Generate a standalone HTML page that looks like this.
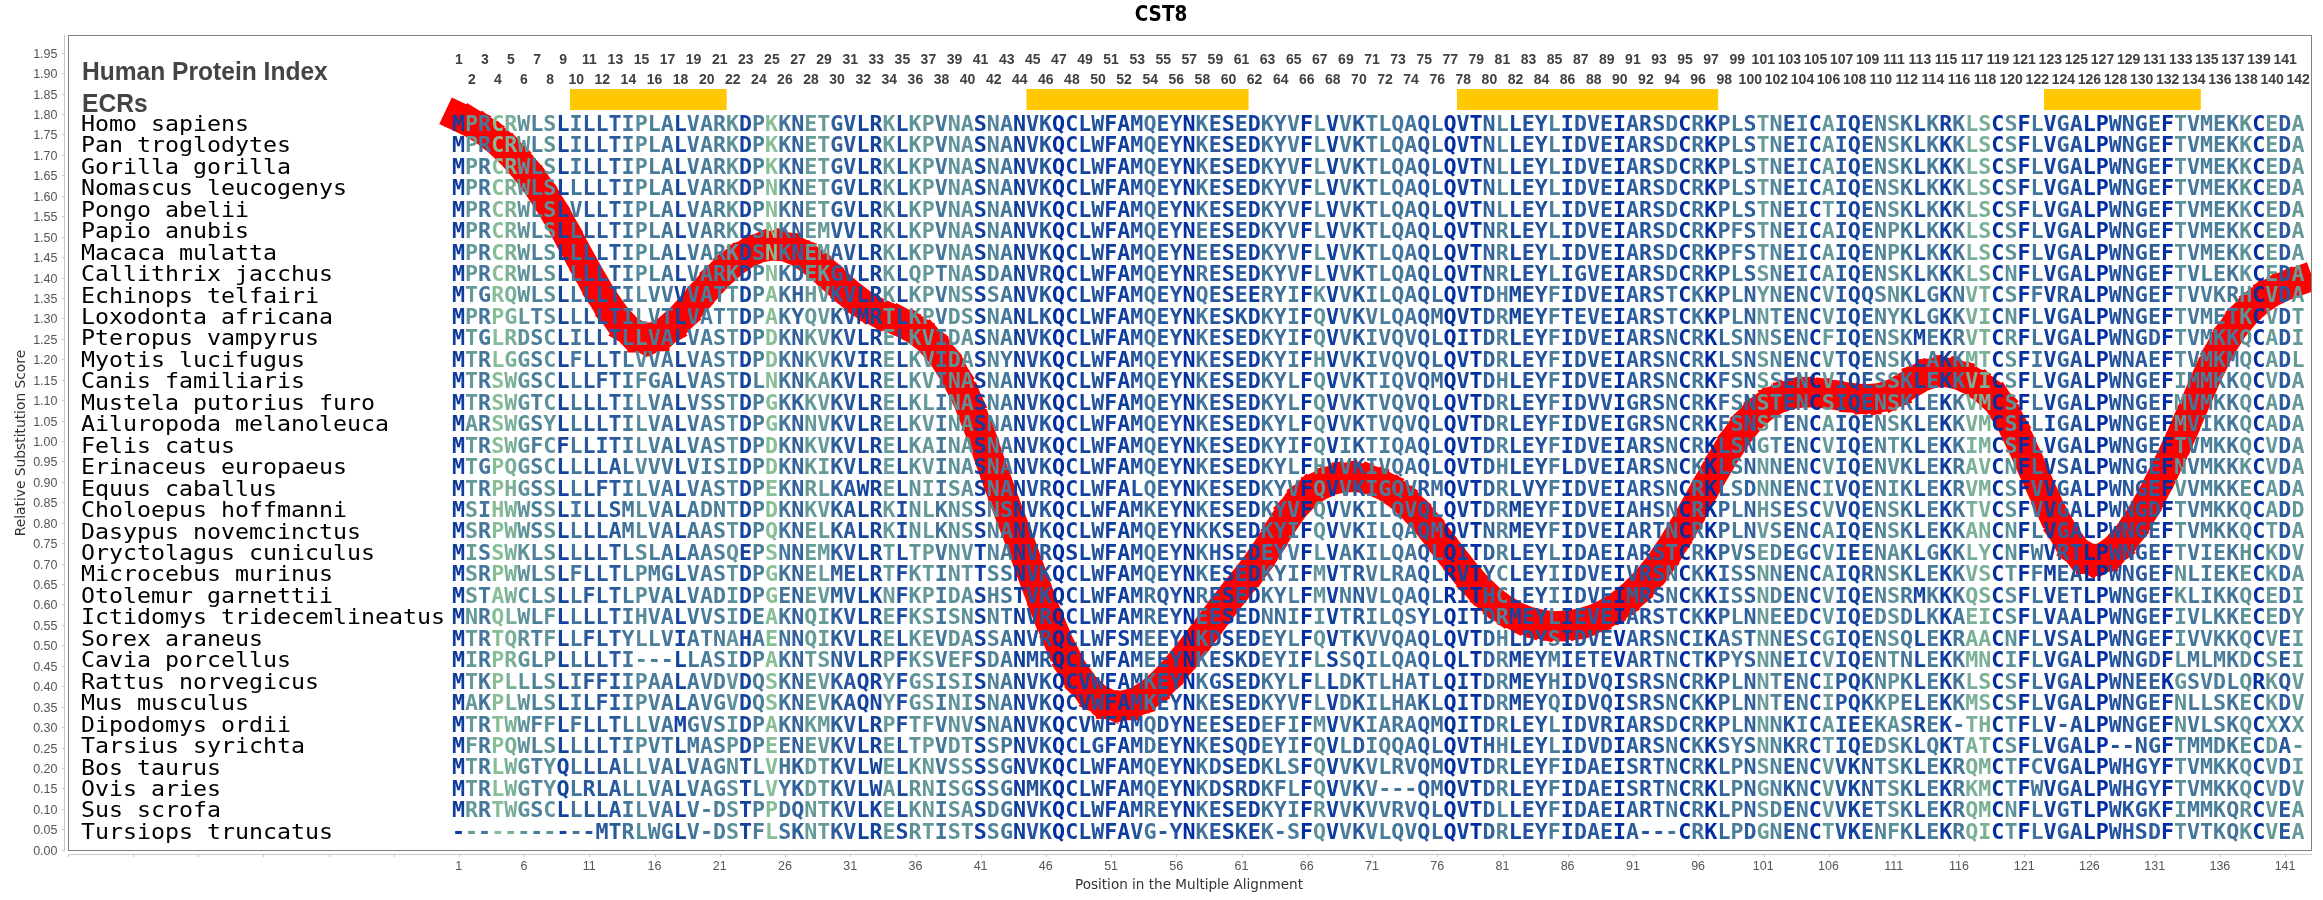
<!DOCTYPE html>
<html><head><meta charset="utf-8"><title>CST8</title>
<style>
html,body{margin:0;padding:0;background:#fff}
body{width:2323px;height:900px;position:relative;overflow:hidden;font-family:"Liberation Sans",sans-serif}
.abs{position:absolute;white-space:pre}
#title{left:0;width:2323px;top:2.2px;text-align:center;font:bold 20.5px "DejaVu Sans Condensed","DejaVu Sans",sans-serif;color:#000;line-height:24px;text-indent:-1px}
#txt{position:absolute;left:0;top:0;width:2323px;height:900px;will-change:transform}
#plot{position:absolute;left:0;top:0;width:2323px;height:900px}
.yl{right:2265.5px;width:40px;text-align:right;font:12.5px "Liberation Sans",sans-serif;color:#555;line-height:14px;height:14px}
.xl{width:40px;text-align:center;font:12.5px "Liberation Sans",sans-serif;color:#555;line-height:14px;top:859px}
#xlab{left:989px;width:400px;text-align:center;top:875px;font:13.57px "DejaVu Sans",sans-serif;color:#333;line-height:18px}
#ylab{left:-80px;width:200px;top:434.3px;text-align:center;font:13.8px "DejaVu Sans",sans-serif;color:#333;line-height:18px;transform:rotate(-90deg)}
.hd{left:81.8px;font:bold 25px "Liberation Sans",sans-serif;color:#444;line-height:28px;transform:scale(0.983,1.04);transform-origin:0 22.7px}
.nm{left:80.6px;font:21.75px "DejaVu Sans Mono",monospace;color:#000;line-height:22px;height:22px;transform:scaleX(1.0693);transform-origin:0 50%}
i{font-style:normal}
.sq{left:452.00px;font:bold 21.67px "DejaVu Sans Mono",monospace;line-height:22px;height:22px;letter-spacing:0px}
.ix{width:40px;text-align:center;font:bold 14px "Liberation Sans",sans-serif;color:#404040;line-height:16px;transform:scaleY(1.06);transform-origin:50% 12.85px}

.c0{color:#002da0}
.c1{color:#0e3c9f}
.c2{color:#14439e}
.c3{color:#1b4a9e}
.c4{color:#22519e}
.c5{color:#28589d}
.c6{color:#2f609c}
.c7{color:#36679c}
.c8{color:#3d6e9c}
.c9{color:#44769b}
.c10{color:#4a7d9a}
.c11{color:#51849a}
.c12{color:#588b9a}
.c13{color:#5e9299}
.c14{color:#659a98}
.c15{color:#7ab097}
.c16{color:#87be96}
</style></head><body>
<svg id="plot" width="2323" height="900" viewBox="0 0 2323 900"><defs><clipPath id="cp"><rect x="69" y="36" width="2242" height="814.5"/></clipPath></defs><g stroke="#c8c8c8" stroke-width="1" fill="none"><path d="M64.5 35V851"/><path d="M68.5 854.5H2312"/><path d="M62 850.5H64.5M62 829.5H64.5M62 809.5H64.5M62 788.5H64.5M62 768.5H64.5M62 748.5H64.5M62 727.5H64.5M62 707.5H64.5M62 686.5H64.5M62 666.5H64.5M62 645.5H64.5M62 625.5H64.5M62 604.5H64.5M62 584.5H64.5M62 564.5H64.5M62 543.5H64.5M62 523.5H64.5M62 502.5H64.5M62 482.5H64.5M62 461.5H64.5M62 441.5H64.5M62 421.5H64.5M62 400.5H64.5M62 380.5H64.5M62 359.5H64.5M62 339.5H64.5M62 318.5H64.5M62 298.5H64.5M62 278.5H64.5M62 257.5H64.5M62 237.5H64.5M62 216.5H64.5M62 196.5H64.5M62 175.5H64.5M62 155.5H64.5M62 134.5H64.5M62 114.5H64.5M62 94.5H64.5M62 73.5H64.5M62 53.5H64.5"/><path d="M68.5 854.5V857M133.5 854.5V857M198.5 854.5V857M263.5 854.5V857M329.5 854.5V857M394.5 854.5V857M459.5 854.5V857M524.5 854.5V857M589.5 854.5V857M655.5 854.5V857M720.5 854.5V857M785.5 854.5V857M850.5 854.5V857M916.5 854.5V857M981.5 854.5V857M1046.5 854.5V857M1111.5 854.5V857M1176.5 854.5V857M1242.5 854.5V857M1307.5 854.5V857M1372.5 854.5V857M1437.5 854.5V857M1503.5 854.5V857M1568.5 854.5V857M1633.5 854.5V857M1698.5 854.5V857M1764.5 854.5V857M1829.5 854.5V857M1894.5 854.5V857M1959.5 854.5V857M2024.5 854.5V857M2090.5 854.5V857M2155.5 854.5V857M2220.5 854.5V857M2285.5 854.5V857"/></g><rect x="569.9" y="89" width="156.8" height="21" fill="#ffc800"/><rect x="1026.5" y="89" width="222.1" height="21" fill="#ffc800"/><rect x="1457.0" y="89" width="261.2" height="21" fill="#ffc800"/><rect x="2044.0" y="89" width="156.8" height="21" fill="#ffc800"/><path clip-path="url(#cp)" d="M458.8 117.0 L471.9 123.2M471.9 123.2 L484.9 131.2M484.9 131.2 L498.0 141.3M498.0 141.3 L511.0 153.5M511.0 153.5 L524.0 168.1M524.0 168.1 L537.1 185.1M537.1 185.1 L550.1 204.9M550.1 204.9 L563.2 227.2M563.2 227.2 L576.2 251.2M576.2 251.2 L589.3 275.0M589.3 275.0 L602.3 297.2M602.3 297.2 L615.4 316.0M615.4 316.0 L628.4 329.9M628.4 329.9 L641.5 337.3M641.5 337.3 L654.5 336.9M654.5 336.9 L667.5 329.8M667.5 329.8 L680.6 318.1M680.6 318.1 L693.6 303.7M693.6 303.7 L706.7 288.6M706.7 288.6 L719.7 274.6M719.7 274.6 L732.8 263.0M732.8 263.0 L745.8 254.1M745.8 254.1 L758.9 248.2M758.9 248.2 L771.9 245.6M771.9 245.6 L784.9 246.8M784.9 246.8 L798.0 252.0M798.0 252.0 L811.0 260.5M811.0 260.5 L824.1 271.2M824.1 271.2 L837.1 282.9M837.1 282.9 L850.2 294.4M850.2 294.4 L863.2 304.3M863.2 304.3 L876.3 311.8M876.3 311.8 L889.3 317.4M889.3 317.4 L902.4 322.8M902.4 322.8 L915.4 329.7M915.4 329.7 L928.4 339.7M928.4 339.7 L941.5 354.4M941.5 354.4 L954.5 374.5M954.5 374.5 L967.6 400.8M967.6 400.8 L980.6 433.9M980.6 433.9 L993.7 471.3M993.7 471.3 L1006.7 507.1M1006.7 507.1 L1019.8 541.3M1019.8 541.3 L1032.8 576.7M1032.8 576.7 L1045.8 611.3M1045.8 611.3 L1058.9 642.6M1058.9 642.6 L1071.9 668.2M1071.9 668.2 L1085.0 686.7M1085.0 686.7 L1098.0 698.7M1098.0 698.7 L1111.1 704.7M1111.1 704.7 L1124.1 705.3M1124.1 705.3 L1137.2 701.3M1137.2 701.3 L1150.2 693.2M1150.2 693.2 L1163.3 681.7M1163.3 681.7 L1176.3 667.6M1176.3 667.6 L1189.3 651.6M1189.3 651.6 L1202.4 634.5M1202.4 634.5 L1215.4 617.0M1215.4 617.0 L1228.5 599.8M1228.5 599.8 L1241.5 583.5M1241.5 583.5 L1254.6 566.9M1254.6 566.9 L1267.6 548.0M1267.6 548.0 L1280.7 527.0M1280.7 527.0 L1293.7 507.9M1293.7 507.9 L1306.7 494.3M1306.7 494.3 L1319.8 485.5M1319.8 485.5 L1332.8 480.1M1332.8 480.1 L1345.9 477.4M1345.9 477.4 L1358.9 477.6M1358.9 477.6 L1372.0 480.6M1372.0 480.6 L1385.0 486.4M1385.0 486.4 L1398.1 495.0M1398.1 495.0 L1411.1 506.4M1411.1 506.4 L1424.2 520.5M1424.2 520.5 L1437.2 536.7M1437.2 536.7 L1450.2 553.7M1450.2 553.7 L1463.3 570.4M1463.3 570.4 L1476.3 585.6M1476.3 585.6 L1489.4 598.3M1489.4 598.3 L1502.4 608.4M1502.4 608.4 L1515.5 616.0M1515.5 616.0 L1528.5 621.3M1528.5 621.3 L1541.6 624.5M1541.6 624.5 L1554.6 625.8M1554.6 625.8 L1567.6 625.2M1567.6 625.2 L1580.7 623.0M1580.7 623.0 L1593.7 619.0M1593.7 619.0 L1606.8 613.0M1606.8 613.0 L1619.8 604.9M1619.8 604.9 L1632.9 594.4M1632.9 594.4 L1645.9 581.2M1645.9 581.2 L1659.0 565.2M1659.0 565.2 L1672.0 546.1M1672.0 546.1 L1685.1 524.4M1685.1 524.4 L1698.1 501.2M1698.1 501.2 L1711.1 477.9M1711.1 477.9 L1724.2 455.6M1724.2 455.6 L1737.2 435.7M1737.2 435.7 L1750.3 419.4M1750.3 419.4 L1763.3 407.5M1763.3 407.5 L1776.4 399.5M1776.4 399.5 L1789.4 394.9M1789.4 394.9 L1802.5 392.8M1802.5 392.8 L1815.5 392.8M1815.5 392.8 L1828.5 394.1M1828.5 394.1 L1841.6 396.2M1841.6 396.2 L1854.6 398.1M1854.6 398.1 L1867.7 398.8M1867.7 398.8 L1880.7 397.5M1880.7 397.5 L1893.8 393.3M1893.8 393.3 L1906.8 385.8M1906.8 385.8 L1919.9 377.8M1919.9 377.8 L1932.9 373.1M1932.9 373.1 L1946.0 372.3M1946.0 372.3 L1959.0 375.2M1959.0 375.2 L1972.0 381.2M1972.0 381.2 L1985.1 389.8M1985.1 389.8 L1998.1 402.0M1998.1 402.0 L2011.2 423.2M2011.2 423.2 L2024.2 450.6M2024.2 450.6 L2037.3 480.0M2037.3 480.0 L2050.3 508.5M2050.3 508.5 L2063.4 533.0M2063.4 533.0 L2076.4 550.6M2076.4 550.6 L2089.4 558.7M2089.4 558.7 L2102.5 557.7M2102.5 557.7 L2115.5 549.0M2115.5 549.0 L2128.6 534.0M2128.6 534.0 L2141.6 514.0M2141.6 514.0 L2154.7 490.4M2154.7 490.4 L2167.7 464.4M2167.7 464.4 L2180.8 436.4M2180.8 436.4 L2193.8 406.4M2193.8 406.4 L2206.9 376.2M2206.9 376.2 L2219.9 349.7M2219.9 349.7 L2232.9 328.8M2232.9 328.8 L2246.0 312.8M2246.0 312.8 L2259.0 300.8M2259.0 300.8 L2272.1 292.1M2272.1 292.1 L2285.1 285.9M2285.1 285.9 L2298.2 281.1" fill="none" stroke="#ff0000" stroke-width="29.3" stroke-linecap="square"/><rect x="68.5" y="35.5" width="2243" height="815" fill="none" stroke="#808080" stroke-width="1"/></svg>
<div id="txt">
<div id="title" class="abs">CST8</div>
<div id="ylab" class="abs">Relative Substitution Score</div>
<div id="xlab" class="abs">Position in the Multiple Alignment</div>
<div class="abs yl" style="top:844.2px">0.00</div>
<div class="abs yl" style="top:823.2px">0.05</div>
<div class="abs yl" style="top:803.2px">0.10</div>
<div class="abs yl" style="top:782.2px">0.15</div>
<div class="abs yl" style="top:762.2px">0.20</div>
<div class="abs yl" style="top:742.2px">0.25</div>
<div class="abs yl" style="top:721.2px">0.30</div>
<div class="abs yl" style="top:701.2px">0.35</div>
<div class="abs yl" style="top:680.2px">0.40</div>
<div class="abs yl" style="top:660.2px">0.45</div>
<div class="abs yl" style="top:639.2px">0.50</div>
<div class="abs yl" style="top:619.2px">0.55</div>
<div class="abs yl" style="top:598.2px">0.60</div>
<div class="abs yl" style="top:578.2px">0.65</div>
<div class="abs yl" style="top:558.2px">0.70</div>
<div class="abs yl" style="top:537.2px">0.75</div>
<div class="abs yl" style="top:517.2px">0.80</div>
<div class="abs yl" style="top:496.2px">0.85</div>
<div class="abs yl" style="top:476.2px">0.90</div>
<div class="abs yl" style="top:455.2px">0.95</div>
<div class="abs yl" style="top:435.2px">1.00</div>
<div class="abs yl" style="top:415.2px">1.05</div>
<div class="abs yl" style="top:394.2px">1.10</div>
<div class="abs yl" style="top:374.2px">1.15</div>
<div class="abs yl" style="top:353.2px">1.20</div>
<div class="abs yl" style="top:333.2px">1.25</div>
<div class="abs yl" style="top:312.2px">1.30</div>
<div class="abs yl" style="top:292.2px">1.35</div>
<div class="abs yl" style="top:272.2px">1.40</div>
<div class="abs yl" style="top:251.2px">1.45</div>
<div class="abs yl" style="top:231.2px">1.50</div>
<div class="abs yl" style="top:210.2px">1.55</div>
<div class="abs yl" style="top:190.2px">1.60</div>
<div class="abs yl" style="top:169.2px">1.65</div>
<div class="abs yl" style="top:149.2px">1.70</div>
<div class="abs yl" style="top:128.2px">1.75</div>
<div class="abs yl" style="top:108.2px">1.80</div>
<div class="abs yl" style="top:88.2px">1.85</div>
<div class="abs yl" style="top:67.2px">1.90</div>
<div class="abs yl" style="top:47.2px">1.95</div>
<div class="abs xl" style="left:438.8px">1</div>
<div class="abs xl" style="left:504.0px">6</div>
<div class="abs xl" style="left:569.3px">11</div>
<div class="abs xl" style="left:634.5px">16</div>
<div class="abs xl" style="left:699.7px">21</div>
<div class="abs xl" style="left:764.9px">26</div>
<div class="abs xl" style="left:830.2px">31</div>
<div class="abs xl" style="left:895.4px">36</div>
<div class="abs xl" style="left:960.6px">41</div>
<div class="abs xl" style="left:1025.8px">46</div>
<div class="abs xl" style="left:1091.1px">51</div>
<div class="abs xl" style="left:1156.3px">56</div>
<div class="abs xl" style="left:1221.5px">61</div>
<div class="abs xl" style="left:1286.7px">66</div>
<div class="abs xl" style="left:1352.0px">71</div>
<div class="abs xl" style="left:1417.2px">76</div>
<div class="abs xl" style="left:1482.4px">81</div>
<div class="abs xl" style="left:1547.6px">86</div>
<div class="abs xl" style="left:1612.9px">91</div>
<div class="abs xl" style="left:1678.1px">96</div>
<div class="abs xl" style="left:1743.3px">101</div>
<div class="abs xl" style="left:1808.5px">106</div>
<div class="abs xl" style="left:1873.8px">111</div>
<div class="abs xl" style="left:1939.0px">116</div>
<div class="abs xl" style="left:2004.2px">121</div>
<div class="abs xl" style="left:2069.4px">126</div>
<div class="abs xl" style="left:2134.7px">131</div>
<div class="abs xl" style="left:2199.9px">136</div>
<div class="abs xl" style="left:2265.1px">141</div>
<div class="abs hd" style="top:57.2px">Human Protein Index</div>
<div class="abs hd" style="top:89.1px">ECRs</div>
<div class="abs ix" style="left:438.8px;top:50.5px">1</div>
<div class="abs ix" style="left:451.9px;top:71.1px">2</div>
<div class="abs ix" style="left:464.9px;top:50.5px">3</div>
<div class="abs ix" style="left:478.0px;top:71.1px">4</div>
<div class="abs ix" style="left:491.0px;top:50.5px">5</div>
<div class="abs ix" style="left:504.0px;top:71.1px">6</div>
<div class="abs ix" style="left:517.1px;top:50.5px">7</div>
<div class="abs ix" style="left:530.1px;top:71.1px">8</div>
<div class="abs ix" style="left:543.2px;top:50.5px">9</div>
<div class="abs ix" style="left:556.2px;top:71.1px">10</div>
<div class="abs ix" style="left:569.3px;top:50.5px">11</div>
<div class="abs ix" style="left:582.3px;top:71.1px">12</div>
<div class="abs ix" style="left:595.4px;top:50.5px">13</div>
<div class="abs ix" style="left:608.4px;top:71.1px">14</div>
<div class="abs ix" style="left:621.5px;top:50.5px">15</div>
<div class="abs ix" style="left:634.5px;top:71.1px">16</div>
<div class="abs ix" style="left:647.5px;top:50.5px">17</div>
<div class="abs ix" style="left:660.6px;top:71.1px">18</div>
<div class="abs ix" style="left:673.6px;top:50.5px">19</div>
<div class="abs ix" style="left:686.7px;top:71.1px">20</div>
<div class="abs ix" style="left:699.7px;top:50.5px">21</div>
<div class="abs ix" style="left:712.8px;top:71.1px">22</div>
<div class="abs ix" style="left:725.8px;top:50.5px">23</div>
<div class="abs ix" style="left:738.9px;top:71.1px">24</div>
<div class="abs ix" style="left:751.9px;top:50.5px">25</div>
<div class="abs ix" style="left:764.9px;top:71.1px">26</div>
<div class="abs ix" style="left:778.0px;top:50.5px">27</div>
<div class="abs ix" style="left:791.0px;top:71.1px">28</div>
<div class="abs ix" style="left:804.1px;top:50.5px">29</div>
<div class="abs ix" style="left:817.1px;top:71.1px">30</div>
<div class="abs ix" style="left:830.2px;top:50.5px">31</div>
<div class="abs ix" style="left:843.2px;top:71.1px">32</div>
<div class="abs ix" style="left:856.3px;top:50.5px">33</div>
<div class="abs ix" style="left:869.3px;top:71.1px">34</div>
<div class="abs ix" style="left:882.4px;top:50.5px">35</div>
<div class="abs ix" style="left:895.4px;top:71.1px">36</div>
<div class="abs ix" style="left:908.4px;top:50.5px">37</div>
<div class="abs ix" style="left:921.5px;top:71.1px">38</div>
<div class="abs ix" style="left:934.5px;top:50.5px">39</div>
<div class="abs ix" style="left:947.6px;top:71.1px">40</div>
<div class="abs ix" style="left:960.6px;top:50.5px">41</div>
<div class="abs ix" style="left:973.7px;top:71.1px">42</div>
<div class="abs ix" style="left:986.7px;top:50.5px">43</div>
<div class="abs ix" style="left:999.8px;top:71.1px">44</div>
<div class="abs ix" style="left:1012.8px;top:50.5px">45</div>
<div class="abs ix" style="left:1025.8px;top:71.1px">46</div>
<div class="abs ix" style="left:1038.9px;top:50.5px">47</div>
<div class="abs ix" style="left:1051.9px;top:71.1px">48</div>
<div class="abs ix" style="left:1065.0px;top:50.5px">49</div>
<div class="abs ix" style="left:1078.0px;top:71.1px">50</div>
<div class="abs ix" style="left:1091.1px;top:50.5px">51</div>
<div class="abs ix" style="left:1104.1px;top:71.1px">52</div>
<div class="abs ix" style="left:1117.2px;top:50.5px">53</div>
<div class="abs ix" style="left:1130.2px;top:71.1px">54</div>
<div class="abs ix" style="left:1143.3px;top:50.5px">55</div>
<div class="abs ix" style="left:1156.3px;top:71.1px">56</div>
<div class="abs ix" style="left:1169.3px;top:50.5px">57</div>
<div class="abs ix" style="left:1182.4px;top:71.1px">58</div>
<div class="abs ix" style="left:1195.4px;top:50.5px">59</div>
<div class="abs ix" style="left:1208.5px;top:71.1px">60</div>
<div class="abs ix" style="left:1221.5px;top:50.5px">61</div>
<div class="abs ix" style="left:1234.6px;top:71.1px">62</div>
<div class="abs ix" style="left:1247.6px;top:50.5px">63</div>
<div class="abs ix" style="left:1260.7px;top:71.1px">64</div>
<div class="abs ix" style="left:1273.7px;top:50.5px">65</div>
<div class="abs ix" style="left:1286.7px;top:71.1px">66</div>
<div class="abs ix" style="left:1299.8px;top:50.5px">67</div>
<div class="abs ix" style="left:1312.8px;top:71.1px">68</div>
<div class="abs ix" style="left:1325.9px;top:50.5px">69</div>
<div class="abs ix" style="left:1338.9px;top:71.1px">70</div>
<div class="abs ix" style="left:1352.0px;top:50.5px">71</div>
<div class="abs ix" style="left:1365.0px;top:71.1px">72</div>
<div class="abs ix" style="left:1378.1px;top:50.5px">73</div>
<div class="abs ix" style="left:1391.1px;top:71.1px">74</div>
<div class="abs ix" style="left:1404.2px;top:50.5px">75</div>
<div class="abs ix" style="left:1417.2px;top:71.1px">76</div>
<div class="abs ix" style="left:1430.2px;top:50.5px">77</div>
<div class="abs ix" style="left:1443.3px;top:71.1px">78</div>
<div class="abs ix" style="left:1456.3px;top:50.5px">79</div>
<div class="abs ix" style="left:1469.4px;top:71.1px">80</div>
<div class="abs ix" style="left:1482.4px;top:50.5px">81</div>
<div class="abs ix" style="left:1495.5px;top:71.1px">82</div>
<div class="abs ix" style="left:1508.5px;top:50.5px">83</div>
<div class="abs ix" style="left:1521.6px;top:71.1px">84</div>
<div class="abs ix" style="left:1534.6px;top:50.5px">85</div>
<div class="abs ix" style="left:1547.6px;top:71.1px">86</div>
<div class="abs ix" style="left:1560.7px;top:50.5px">87</div>
<div class="abs ix" style="left:1573.7px;top:71.1px">88</div>
<div class="abs ix" style="left:1586.8px;top:50.5px">89</div>
<div class="abs ix" style="left:1599.8px;top:71.1px">90</div>
<div class="abs ix" style="left:1612.9px;top:50.5px">91</div>
<div class="abs ix" style="left:1625.9px;top:71.1px">92</div>
<div class="abs ix" style="left:1639.0px;top:50.5px">93</div>
<div class="abs ix" style="left:1652.0px;top:71.1px">94</div>
<div class="abs ix" style="left:1665.1px;top:50.5px">95</div>
<div class="abs ix" style="left:1678.1px;top:71.1px">96</div>
<div class="abs ix" style="left:1691.1px;top:50.5px">97</div>
<div class="abs ix" style="left:1704.2px;top:71.1px">98</div>
<div class="abs ix" style="left:1717.2px;top:50.5px">99</div>
<div class="abs ix" style="left:1730.3px;top:71.1px">100</div>
<div class="abs ix" style="left:1743.3px;top:50.5px">101</div>
<div class="abs ix" style="left:1756.4px;top:71.1px">102</div>
<div class="abs ix" style="left:1769.4px;top:50.5px">103</div>
<div class="abs ix" style="left:1782.5px;top:71.1px">104</div>
<div class="abs ix" style="left:1795.5px;top:50.5px">105</div>
<div class="abs ix" style="left:1808.5px;top:71.1px">106</div>
<div class="abs ix" style="left:1821.6px;top:50.5px">107</div>
<div class="abs ix" style="left:1834.6px;top:71.1px">108</div>
<div class="abs ix" style="left:1847.7px;top:50.5px">109</div>
<div class="abs ix" style="left:1860.7px;top:71.1px">110</div>
<div class="abs ix" style="left:1873.8px;top:50.5px">111</div>
<div class="abs ix" style="left:1886.8px;top:71.1px">112</div>
<div class="abs ix" style="left:1899.9px;top:50.5px">113</div>
<div class="abs ix" style="left:1912.9px;top:71.1px">114</div>
<div class="abs ix" style="left:1926.0px;top:50.5px">115</div>
<div class="abs ix" style="left:1939.0px;top:71.1px">116</div>
<div class="abs ix" style="left:1952.0px;top:50.5px">117</div>
<div class="abs ix" style="left:1965.1px;top:71.1px">118</div>
<div class="abs ix" style="left:1978.1px;top:50.5px">119</div>
<div class="abs ix" style="left:1991.2px;top:71.1px">120</div>
<div class="abs ix" style="left:2004.2px;top:50.5px">121</div>
<div class="abs ix" style="left:2017.3px;top:71.1px">122</div>
<div class="abs ix" style="left:2030.3px;top:50.5px">123</div>
<div class="abs ix" style="left:2043.4px;top:71.1px">124</div>
<div class="abs ix" style="left:2056.4px;top:50.5px">125</div>
<div class="abs ix" style="left:2069.4px;top:71.1px">126</div>
<div class="abs ix" style="left:2082.5px;top:50.5px">127</div>
<div class="abs ix" style="left:2095.5px;top:71.1px">128</div>
<div class="abs ix" style="left:2108.6px;top:50.5px">129</div>
<div class="abs ix" style="left:2121.6px;top:71.1px">130</div>
<div class="abs ix" style="left:2134.7px;top:50.5px">131</div>
<div class="abs ix" style="left:2147.7px;top:71.1px">132</div>
<div class="abs ix" style="left:2160.8px;top:50.5px">133</div>
<div class="abs ix" style="left:2173.8px;top:71.1px">134</div>
<div class="abs ix" style="left:2186.9px;top:50.5px">135</div>
<div class="abs ix" style="left:2199.9px;top:71.1px">136</div>
<div class="abs ix" style="left:2212.9px;top:50.5px">137</div>
<div class="abs ix" style="left:2226.0px;top:71.1px">138</div>
<div class="abs ix" style="left:2239.0px;top:50.5px">139</div>
<div class="abs ix" style="left:2252.1px;top:71.1px">140</div>
<div class="abs ix" style="left:2265.1px;top:50.5px">141</div>
<div class="abs ix" style="left:2278.2px;top:71.1px">142</div>
<div class="abs nm" style="top:112.9px">Homo sapiens</div>
<div class="abs sq" style="top:112.8px"><i class="c1">M</i><i class="c14">P</i><i class="c9">R</i><i class="c16">C</i><i class="c15">R</i><i class="c13">W</i><i class="c10">L</i><i class="c13">S</i><i class="c2">L</i><i class="c9">I</i><i class="c5">LLT</i><i class="c9">I</i><i class="c12">P</i><i class="c10">L</i><i class="c9">A</i><i class="c2">L</i><i class="c9">V</i><i class="c10">AR</i><i class="c13">K</i><i class="c2">D</i><i class="c10">P</i><i class="c16">K</i><i class="c9">K</i><i class="c6">N</i><i class="c14">ET</i><i class="c6">G</i><i class="c5">V</i><i class="c2">LR</i><i class="c14">K</i><i class="c3">L</i><i class="c13">K</i><i class="c14">P</i><i class="c9">V</i><i class="c13">NA</i><i class="c1">S</i><i class="c11">N</i><i class="c9">A</i><i class="c1">N</i><i class="c4">V</i><i class="c5">K</i><i class="c0">Q</i><i class="c1">C</i><i class="c2">L</i><i class="c4">W</i><i class="c1">FA</i><i class="c4">M</i><i class="c9">Q</i><i class="c5">E</i><i class="c4">Y</i><i class="c0">N</i><i class="c9">K</i><i class="c5">E</i><i class="c1">S</i><i class="c5">E</i><i class="c1">D</i><i class="c9">K</i><i class="c8">Y</i><i class="c10">V</i><i class="c0">F</i><i class="c13">L</i><i class="c1">V</i><i class="c10">V</i><i class="c5">K</i><i class="c10">TL</i><i class="c9">QA</i><i class="c5">Q</i><i class="c8">L</i><i class="c0">Q</i><i class="c2">V</i><i class="c0">T</i><i class="c6">N</i><i class="c11">L</i><i class="c2">L</i><i class="c4">EY</i><i class="c10">L</i><i class="c1">I</i><i class="c5">DVE</i><i class="c0">I</i><i class="c6">A</i><i class="c4">R</i><i class="c5">S</i><i class="c9">D</i><i class="c0">C</i><i class="c9">R</i><i class="c0">K</i><i class="c7">P</i><i class="c10">L</i><i class="c6">S</i><i class="c14">T</i><i class="c11">N</i><i class="c4">E</i><i class="c10">I</i><i class="c0">C</i><i class="c14">A</i><i class="c5">I</i><i class="c2">Q</i><i class="c5">E</i><i class="c11">N</i><i class="c13">S</i><i class="c9">K</i><i class="c2">L</i><i class="c10">K</i><i class="c1">R</i><i class="c9">K</i><i class="c15">LS</i><i class="c0">C</i><i class="c13">S</i><i class="c0">F</i><i class="c9">L</i><i class="c1">V</i><i class="c6">G</i><i class="c4">A</i><i class="c0">LP</i><i class="c4">W</i><i class="c5">NG</i><i class="c6">E</i><i class="c0">F</i><i class="c13">T</i><i class="c9">V</i><i class="c10">ME</i><i class="c9">K</i><i class="c13">K</i><i class="c0">C</i><i class="c14">E</i><i class="c5">D</i><i class="c14">A</i></div>
<div class="abs nm" style="top:134.4px">Pan troglodytes</div>
<div class="abs sq" style="top:134.3px"><i class="c1">M</i><i class="c14">P</i><i class="c9">R</i><i class="c16">C</i><i class="c15">R</i><i class="c13">W</i><i class="c10">L</i><i class="c13">S</i><i class="c2">L</i><i class="c9">I</i><i class="c5">LLT</i><i class="c9">I</i><i class="c12">P</i><i class="c10">L</i><i class="c9">A</i><i class="c2">L</i><i class="c9">V</i><i class="c10">AR</i><i class="c13">K</i><i class="c2">D</i><i class="c10">P</i><i class="c16">K</i><i class="c9">K</i><i class="c6">N</i><i class="c14">ET</i><i class="c6">G</i><i class="c5">V</i><i class="c2">LR</i><i class="c14">K</i><i class="c3">L</i><i class="c13">K</i><i class="c14">P</i><i class="c9">V</i><i class="c13">NA</i><i class="c1">S</i><i class="c11">N</i><i class="c9">A</i><i class="c1">N</i><i class="c4">V</i><i class="c5">K</i><i class="c0">Q</i><i class="c1">C</i><i class="c2">L</i><i class="c4">W</i><i class="c1">FA</i><i class="c4">M</i><i class="c9">Q</i><i class="c5">E</i><i class="c4">Y</i><i class="c0">N</i><i class="c9">K</i><i class="c5">E</i><i class="c1">S</i><i class="c5">E</i><i class="c1">D</i><i class="c9">K</i><i class="c8">Y</i><i class="c10">V</i><i class="c0">F</i><i class="c13">L</i><i class="c1">V</i><i class="c10">V</i><i class="c5">K</i><i class="c10">TL</i><i class="c9">QA</i><i class="c5">Q</i><i class="c8">L</i><i class="c0">Q</i><i class="c2">V</i><i class="c0">T</i><i class="c6">N</i><i class="c11">L</i><i class="c2">L</i><i class="c4">EY</i><i class="c10">L</i><i class="c1">I</i><i class="c5">DVE</i><i class="c0">I</i><i class="c6">A</i><i class="c4">R</i><i class="c5">S</i><i class="c9">D</i><i class="c0">C</i><i class="c9">R</i><i class="c0">K</i><i class="c7">P</i><i class="c10">L</i><i class="c6">S</i><i class="c14">T</i><i class="c11">N</i><i class="c4">E</i><i class="c10">I</i><i class="c0">C</i><i class="c14">A</i><i class="c5">I</i><i class="c2">Q</i><i class="c5">E</i><i class="c11">N</i><i class="c13">S</i><i class="c9">K</i><i class="c2">L</i><i class="c10">K</i><i class="c1">K</i><i class="c9">K</i><i class="c15">LS</i><i class="c0">C</i><i class="c13">S</i><i class="c0">F</i><i class="c9">L</i><i class="c1">V</i><i class="c6">G</i><i class="c4">A</i><i class="c0">LP</i><i class="c4">W</i><i class="c5">NG</i><i class="c6">E</i><i class="c0">F</i><i class="c13">T</i><i class="c9">V</i><i class="c10">ME</i><i class="c9">K</i><i class="c13">K</i><i class="c0">C</i><i class="c14">E</i><i class="c5">D</i><i class="c14">A</i></div>
<div class="abs nm" style="top:155.8px">Gorilla gorilla</div>
<div class="abs sq" style="top:155.7px"><i class="c1">M</i><i class="c14">P</i><i class="c9">R</i><i class="c16">C</i><i class="c15">R</i><i class="c13">W</i><i class="c10">L</i><i class="c13">S</i><i class="c2">L</i><i class="c9">I</i><i class="c5">LLT</i><i class="c9">I</i><i class="c12">P</i><i class="c10">L</i><i class="c9">A</i><i class="c2">L</i><i class="c9">V</i><i class="c10">AR</i><i class="c13">K</i><i class="c2">D</i><i class="c10">P</i><i class="c16">K</i><i class="c9">K</i><i class="c6">N</i><i class="c14">ET</i><i class="c6">G</i><i class="c5">V</i><i class="c2">LR</i><i class="c14">K</i><i class="c3">L</i><i class="c13">K</i><i class="c14">P</i><i class="c9">V</i><i class="c13">NA</i><i class="c1">S</i><i class="c11">N</i><i class="c9">A</i><i class="c1">N</i><i class="c4">V</i><i class="c5">K</i><i class="c0">Q</i><i class="c1">C</i><i class="c2">L</i><i class="c4">W</i><i class="c1">FA</i><i class="c4">M</i><i class="c9">Q</i><i class="c5">E</i><i class="c4">Y</i><i class="c0">N</i><i class="c9">K</i><i class="c5">E</i><i class="c1">S</i><i class="c5">E</i><i class="c1">D</i><i class="c9">K</i><i class="c8">Y</i><i class="c10">V</i><i class="c0">F</i><i class="c13">L</i><i class="c1">V</i><i class="c10">V</i><i class="c5">K</i><i class="c10">TL</i><i class="c9">QA</i><i class="c5">Q</i><i class="c8">L</i><i class="c0">Q</i><i class="c2">V</i><i class="c0">T</i><i class="c6">N</i><i class="c11">L</i><i class="c2">L</i><i class="c4">EY</i><i class="c10">L</i><i class="c1">I</i><i class="c5">DVE</i><i class="c0">I</i><i class="c6">A</i><i class="c4">R</i><i class="c5">S</i><i class="c9">D</i><i class="c0">C</i><i class="c9">R</i><i class="c0">K</i><i class="c7">P</i><i class="c10">L</i><i class="c6">S</i><i class="c14">T</i><i class="c11">N</i><i class="c4">E</i><i class="c10">I</i><i class="c0">C</i><i class="c14">A</i><i class="c5">I</i><i class="c2">Q</i><i class="c5">E</i><i class="c11">N</i><i class="c13">S</i><i class="c9">K</i><i class="c2">L</i><i class="c10">K</i><i class="c1">K</i><i class="c9">K</i><i class="c15">LS</i><i class="c0">C</i><i class="c13">S</i><i class="c0">F</i><i class="c9">L</i><i class="c1">V</i><i class="c6">G</i><i class="c4">A</i><i class="c0">LP</i><i class="c4">W</i><i class="c5">NG</i><i class="c6">E</i><i class="c0">F</i><i class="c13">T</i><i class="c9">V</i><i class="c10">ME</i><i class="c9">K</i><i class="c13">K</i><i class="c0">C</i><i class="c14">E</i><i class="c5">D</i><i class="c14">A</i></div>
<div class="abs nm" style="top:177.3px">Nomascus leucogenys</div>
<div class="abs sq" style="top:177.2px"><i class="c1">M</i><i class="c14">P</i><i class="c9">R</i><i class="c16">C</i><i class="c15">R</i><i class="c13">W</i><i class="c10">L</i><i class="c13">S</i><i class="c2">L</i><i class="c9">L</i><i class="c5">LLT</i><i class="c9">I</i><i class="c12">P</i><i class="c10">L</i><i class="c9">A</i><i class="c2">L</i><i class="c9">V</i><i class="c10">AR</i><i class="c13">K</i><i class="c2">D</i><i class="c10">P</i><i class="c16">N</i><i class="c9">K</i><i class="c6">N</i><i class="c14">ET</i><i class="c6">G</i><i class="c5">V</i><i class="c2">LR</i><i class="c14">K</i><i class="c3">L</i><i class="c13">K</i><i class="c14">P</i><i class="c9">V</i><i class="c13">NA</i><i class="c1">S</i><i class="c11">N</i><i class="c9">A</i><i class="c1">N</i><i class="c4">V</i><i class="c5">K</i><i class="c0">Q</i><i class="c1">C</i><i class="c2">L</i><i class="c4">W</i><i class="c1">FA</i><i class="c4">M</i><i class="c9">Q</i><i class="c5">E</i><i class="c4">Y</i><i class="c0">N</i><i class="c9">K</i><i class="c5">E</i><i class="c1">S</i><i class="c5">E</i><i class="c1">D</i><i class="c9">K</i><i class="c8">Y</i><i class="c10">V</i><i class="c0">F</i><i class="c13">L</i><i class="c1">V</i><i class="c10">V</i><i class="c5">K</i><i class="c10">TL</i><i class="c9">QA</i><i class="c5">Q</i><i class="c8">L</i><i class="c0">Q</i><i class="c2">V</i><i class="c0">T</i><i class="c6">N</i><i class="c11">L</i><i class="c2">L</i><i class="c4">EY</i><i class="c10">L</i><i class="c1">I</i><i class="c5">DVE</i><i class="c0">I</i><i class="c6">A</i><i class="c4">R</i><i class="c5">S</i><i class="c9">D</i><i class="c0">C</i><i class="c9">R</i><i class="c0">K</i><i class="c7">P</i><i class="c10">L</i><i class="c6">S</i><i class="c14">T</i><i class="c11">N</i><i class="c4">E</i><i class="c10">I</i><i class="c0">C</i><i class="c14">A</i><i class="c5">I</i><i class="c2">Q</i><i class="c5">E</i><i class="c11">N</i><i class="c13">S</i><i class="c9">K</i><i class="c2">L</i><i class="c10">K</i><i class="c1">K</i><i class="c9">K</i><i class="c15">LS</i><i class="c0">C</i><i class="c13">S</i><i class="c0">F</i><i class="c9">L</i><i class="c1">V</i><i class="c6">G</i><i class="c4">A</i><i class="c0">LP</i><i class="c4">W</i><i class="c5">NG</i><i class="c6">E</i><i class="c0">F</i><i class="c13">T</i><i class="c9">V</i><i class="c10">ME</i><i class="c9">K</i><i class="c13">K</i><i class="c0">C</i><i class="c14">E</i><i class="c5">D</i><i class="c14">A</i></div>
<div class="abs nm" style="top:198.7px">Pongo abelii</div>
<div class="abs sq" style="top:198.6px"><i class="c1">M</i><i class="c14">P</i><i class="c9">R</i><i class="c16">C</i><i class="c15">R</i><i class="c13">W</i><i class="c10">L</i><i class="c13">S</i><i class="c2">L</i><i class="c9">V</i><i class="c5">LLT</i><i class="c9">I</i><i class="c12">P</i><i class="c10">L</i><i class="c9">A</i><i class="c2">L</i><i class="c9">V</i><i class="c10">AR</i><i class="c13">K</i><i class="c2">D</i><i class="c10">P</i><i class="c16">N</i><i class="c9">K</i><i class="c6">N</i><i class="c14">ET</i><i class="c6">G</i><i class="c5">V</i><i class="c2">LR</i><i class="c14">K</i><i class="c3">L</i><i class="c13">K</i><i class="c14">P</i><i class="c9">V</i><i class="c13">NA</i><i class="c1">S</i><i class="c11">N</i><i class="c9">A</i><i class="c1">N</i><i class="c4">V</i><i class="c5">K</i><i class="c0">Q</i><i class="c1">C</i><i class="c2">L</i><i class="c4">W</i><i class="c1">FA</i><i class="c4">M</i><i class="c9">Q</i><i class="c5">E</i><i class="c4">Y</i><i class="c0">N</i><i class="c9">K</i><i class="c5">E</i><i class="c1">S</i><i class="c5">E</i><i class="c1">D</i><i class="c9">K</i><i class="c8">Y</i><i class="c10">V</i><i class="c0">F</i><i class="c13">L</i><i class="c1">V</i><i class="c10">V</i><i class="c5">K</i><i class="c10">TL</i><i class="c9">QA</i><i class="c5">Q</i><i class="c8">L</i><i class="c0">Q</i><i class="c2">V</i><i class="c0">T</i><i class="c6">N</i><i class="c11">L</i><i class="c2">L</i><i class="c4">EY</i><i class="c10">L</i><i class="c1">I</i><i class="c5">DVE</i><i class="c0">I</i><i class="c6">A</i><i class="c4">R</i><i class="c5">S</i><i class="c9">D</i><i class="c0">C</i><i class="c9">R</i><i class="c0">K</i><i class="c7">P</i><i class="c10">L</i><i class="c6">S</i><i class="c14">T</i><i class="c11">N</i><i class="c4">E</i><i class="c10">I</i><i class="c0">C</i><i class="c14">T</i><i class="c5">I</i><i class="c2">Q</i><i class="c5">E</i><i class="c11">N</i><i class="c13">S</i><i class="c9">K</i><i class="c2">L</i><i class="c10">K</i><i class="c1">K</i><i class="c9">K</i><i class="c15">LS</i><i class="c0">C</i><i class="c13">S</i><i class="c0">F</i><i class="c9">L</i><i class="c1">V</i><i class="c6">G</i><i class="c4">A</i><i class="c0">LP</i><i class="c4">W</i><i class="c5">NG</i><i class="c6">E</i><i class="c0">F</i><i class="c13">T</i><i class="c9">V</i><i class="c10">ME</i><i class="c9">K</i><i class="c13">K</i><i class="c0">C</i><i class="c14">E</i><i class="c5">D</i><i class="c14">A</i></div>
<div class="abs nm" style="top:220.2px">Papio anubis</div>
<div class="abs sq" style="top:220.1px"><i class="c1">M</i><i class="c14">P</i><i class="c9">R</i><i class="c16">C</i><i class="c15">R</i><i class="c13">W</i><i class="c10">L</i><i class="c13">S</i><i class="c2">L</i><i class="c9">L</i><i class="c5">LLT</i><i class="c9">I</i><i class="c12">P</i><i class="c10">L</i><i class="c9">A</i><i class="c2">L</i><i class="c9">V</i><i class="c10">AR</i><i class="c13">K</i><i class="c2">D</i><i class="c10">S</i><i class="c16">N</i><i class="c9">K</i><i class="c6">N</i><i class="c14">EM</i><i class="c6">V</i><i class="c5">V</i><i class="c2">LR</i><i class="c14">K</i><i class="c3">L</i><i class="c13">K</i><i class="c14">P</i><i class="c9">V</i><i class="c13">NA</i><i class="c1">S</i><i class="c11">N</i><i class="c9">A</i><i class="c1">N</i><i class="c4">V</i><i class="c5">K</i><i class="c0">Q</i><i class="c1">C</i><i class="c2">L</i><i class="c4">W</i><i class="c1">FA</i><i class="c4">M</i><i class="c9">Q</i><i class="c5">E</i><i class="c4">Y</i><i class="c0">N</i><i class="c9">E</i><i class="c5">E</i><i class="c1">S</i><i class="c5">E</i><i class="c1">D</i><i class="c9">K</i><i class="c8">Y</i><i class="c10">V</i><i class="c0">F</i><i class="c13">L</i><i class="c1">V</i><i class="c10">V</i><i class="c5">K</i><i class="c10">TL</i><i class="c9">QA</i><i class="c5">Q</i><i class="c8">L</i><i class="c0">Q</i><i class="c2">V</i><i class="c0">T</i><i class="c6">N</i><i class="c11">R</i><i class="c2">L</i><i class="c4">EY</i><i class="c10">L</i><i class="c1">I</i><i class="c5">DVE</i><i class="c0">I</i><i class="c6">A</i><i class="c4">R</i><i class="c5">S</i><i class="c9">D</i><i class="c0">C</i><i class="c9">R</i><i class="c0">K</i><i class="c7">P</i><i class="c10">F</i><i class="c6">S</i><i class="c14">T</i><i class="c11">N</i><i class="c4">E</i><i class="c10">I</i><i class="c0">C</i><i class="c14">A</i><i class="c5">I</i><i class="c2">Q</i><i class="c5">E</i><i class="c11">N</i><i class="c13">P</i><i class="c9">K</i><i class="c2">L</i><i class="c10">K</i><i class="c1">K</i><i class="c9">K</i><i class="c15">LS</i><i class="c0">C</i><i class="c13">S</i><i class="c0">F</i><i class="c9">L</i><i class="c1">V</i><i class="c6">G</i><i class="c4">A</i><i class="c0">LP</i><i class="c4">W</i><i class="c5">NG</i><i class="c6">E</i><i class="c0">F</i><i class="c13">T</i><i class="c9">V</i><i class="c10">ME</i><i class="c9">K</i><i class="c13">K</i><i class="c0">C</i><i class="c14">E</i><i class="c5">D</i><i class="c14">A</i></div>
<div class="abs nm" style="top:241.6px">Macaca mulatta</div>
<div class="abs sq" style="top:241.5px"><i class="c1">M</i><i class="c14">P</i><i class="c9">R</i><i class="c16">C</i><i class="c15">R</i><i class="c13">W</i><i class="c10">L</i><i class="c13">S</i><i class="c2">L</i><i class="c9">L</i><i class="c5">LLT</i><i class="c9">I</i><i class="c12">P</i><i class="c10">L</i><i class="c9">A</i><i class="c2">L</i><i class="c9">V</i><i class="c10">AR</i><i class="c13">K</i><i class="c2">D</i><i class="c10">S</i><i class="c16">N</i><i class="c9">K</i><i class="c6">N</i><i class="c14">EM</i><i class="c6">A</i><i class="c5">V</i><i class="c2">LR</i><i class="c14">K</i><i class="c3">L</i><i class="c13">K</i><i class="c14">P</i><i class="c9">V</i><i class="c13">NA</i><i class="c1">S</i><i class="c11">N</i><i class="c9">A</i><i class="c1">N</i><i class="c4">V</i><i class="c5">K</i><i class="c0">Q</i><i class="c1">C</i><i class="c2">L</i><i class="c4">W</i><i class="c1">FA</i><i class="c4">M</i><i class="c9">Q</i><i class="c5">E</i><i class="c4">Y</i><i class="c0">N</i><i class="c9">E</i><i class="c5">E</i><i class="c1">S</i><i class="c5">E</i><i class="c1">D</i><i class="c9">K</i><i class="c8">Y</i><i class="c10">V</i><i class="c0">F</i><i class="c13">L</i><i class="c1">V</i><i class="c10">V</i><i class="c5">K</i><i class="c10">TL</i><i class="c9">QA</i><i class="c5">Q</i><i class="c8">L</i><i class="c0">Q</i><i class="c2">V</i><i class="c0">T</i><i class="c6">N</i><i class="c11">R</i><i class="c2">L</i><i class="c4">EY</i><i class="c10">L</i><i class="c1">I</i><i class="c5">DVE</i><i class="c0">I</i><i class="c6">A</i><i class="c4">R</i><i class="c5">S</i><i class="c9">D</i><i class="c0">C</i><i class="c9">R</i><i class="c0">K</i><i class="c7">P</i><i class="c10">F</i><i class="c6">S</i><i class="c14">T</i><i class="c11">N</i><i class="c4">E</i><i class="c10">I</i><i class="c0">C</i><i class="c14">A</i><i class="c5">I</i><i class="c2">Q</i><i class="c5">E</i><i class="c11">N</i><i class="c13">P</i><i class="c9">K</i><i class="c2">L</i><i class="c10">K</i><i class="c1">K</i><i class="c9">K</i><i class="c15">LS</i><i class="c0">C</i><i class="c13">S</i><i class="c0">F</i><i class="c9">L</i><i class="c1">V</i><i class="c6">G</i><i class="c4">A</i><i class="c0">LP</i><i class="c4">W</i><i class="c5">NG</i><i class="c6">E</i><i class="c0">F</i><i class="c13">T</i><i class="c9">V</i><i class="c10">ME</i><i class="c9">K</i><i class="c13">K</i><i class="c0">C</i><i class="c14">E</i><i class="c5">D</i><i class="c14">A</i></div>
<div class="abs nm" style="top:263.1px">Callithrix jacchus</div>
<div class="abs sq" style="top:263.0px"><i class="c1">M</i><i class="c14">P</i><i class="c9">R</i><i class="c16">C</i><i class="c15">R</i><i class="c13">W</i><i class="c10">L</i><i class="c13">S</i><i class="c2">L</i><i class="c9">L</i><i class="c5">LLT</i><i class="c9">I</i><i class="c12">P</i><i class="c10">L</i><i class="c9">A</i><i class="c2">L</i><i class="c9">V</i><i class="c10">AR</i><i class="c13">K</i><i class="c2">D</i><i class="c10">P</i><i class="c16">N</i><i class="c9">K</i><i class="c6">D</i><i class="c14">EK</i><i class="c6">G</i><i class="c5">V</i><i class="c2">LR</i><i class="c14">K</i><i class="c3">L</i><i class="c13">Q</i><i class="c14">P</i><i class="c9">T</i><i class="c13">NA</i><i class="c1">S</i><i class="c11">D</i><i class="c9">A</i><i class="c1">N</i><i class="c4">V</i><i class="c5">R</i><i class="c0">Q</i><i class="c1">C</i><i class="c2">L</i><i class="c4">W</i><i class="c1">FA</i><i class="c4">M</i><i class="c9">Q</i><i class="c5">E</i><i class="c4">Y</i><i class="c0">N</i><i class="c9">R</i><i class="c5">E</i><i class="c1">S</i><i class="c5">E</i><i class="c1">D</i><i class="c9">K</i><i class="c8">Y</i><i class="c10">V</i><i class="c0">F</i><i class="c13">L</i><i class="c1">V</i><i class="c10">V</i><i class="c5">K</i><i class="c10">TL</i><i class="c9">QA</i><i class="c5">Q</i><i class="c8">L</i><i class="c0">Q</i><i class="c2">V</i><i class="c0">T</i><i class="c6">N</i><i class="c11">R</i><i class="c2">L</i><i class="c4">EY</i><i class="c10">L</i><i class="c1">I</i><i class="c5">GVE</i><i class="c0">I</i><i class="c6">A</i><i class="c4">R</i><i class="c5">S</i><i class="c9">D</i><i class="c0">C</i><i class="c9">R</i><i class="c0">K</i><i class="c7">P</i><i class="c10">L</i><i class="c6">S</i><i class="c14">S</i><i class="c11">N</i><i class="c4">E</i><i class="c10">I</i><i class="c0">C</i><i class="c14">A</i><i class="c5">I</i><i class="c2">Q</i><i class="c5">E</i><i class="c11">N</i><i class="c13">S</i><i class="c9">K</i><i class="c2">L</i><i class="c10">K</i><i class="c1">K</i><i class="c9">K</i><i class="c15">LS</i><i class="c0">C</i><i class="c13">N</i><i class="c0">F</i><i class="c9">L</i><i class="c1">V</i><i class="c6">G</i><i class="c4">A</i><i class="c0">LP</i><i class="c4">W</i><i class="c5">NG</i><i class="c6">E</i><i class="c0">F</i><i class="c13">T</i><i class="c9">V</i><i class="c10">LE</i><i class="c9">K</i><i class="c13">K</i><i class="c0">C</i><i class="c14">E</i><i class="c5">D</i><i class="c14">A</i></div>
<div class="abs nm" style="top:284.5px">Echinops telfairi</div>
<div class="abs sq" style="top:284.4px"><i class="c1">M</i><i class="c14">T</i><i class="c9">G</i><i class="c16">R</i><i class="c15">Q</i><i class="c13">W</i><i class="c10">L</i><i class="c13">S</i><i class="c2">L</i><i class="c9">L</i><i class="c5">LLT</i><i class="c9">I</i><i class="c12">L</i><i class="c10">V</i><i class="c9">V</i><i class="c2">V</i><i class="c9">V</i><i class="c10">AT</i><i class="c13">T</i><i class="c2">D</i><i class="c10">P</i><i class="c16">A</i><i class="c9">K</i><i class="c6">H</i><i class="c14">HV</i><i class="c6">K</i><i class="c5">V</i><i class="c2">LR</i><i class="c14">K</i><i class="c3">L</i><i class="c13">K</i><i class="c14">P</i><i class="c9">V</i><i class="c13">NS</i><i class="c1">S</i><i class="c11">S</i><i class="c9">A</i><i class="c1">N</i><i class="c4">V</i><i class="c5">K</i><i class="c0">Q</i><i class="c1">C</i><i class="c2">L</i><i class="c4">W</i><i class="c1">FA</i><i class="c4">M</i><i class="c9">Q</i><i class="c5">E</i><i class="c4">Y</i><i class="c0">N</i><i class="c9">Q</i><i class="c5">E</i><i class="c1">S</i><i class="c5">E</i><i class="c1">E</i><i class="c9">R</i><i class="c8">Y</i><i class="c10">I</i><i class="c0">F</i><i class="c13">K</i><i class="c1">V</i><i class="c10">V</i><i class="c5">K</i><i class="c10">IL</i><i class="c9">QA</i><i class="c5">Q</i><i class="c8">L</i><i class="c0">Q</i><i class="c2">V</i><i class="c0">T</i><i class="c6">D</i><i class="c11">H</i><i class="c2">M</i><i class="c4">EY</i><i class="c10">F</i><i class="c1">I</i><i class="c5">DVE</i><i class="c0">I</i><i class="c6">A</i><i class="c4">R</i><i class="c5">S</i><i class="c9">T</i><i class="c0">C</i><i class="c9">K</i><i class="c0">K</i><i class="c7">P</i><i class="c10">L</i><i class="c6">N</i><i class="c14">Y</i><i class="c11">N</i><i class="c4">E</i><i class="c10">N</i><i class="c0">C</i><i class="c14">V</i><i class="c5">I</i><i class="c2">Q</i><i class="c5">Q</i><i class="c11">S</i><i class="c13">N</i><i class="c9">K</i><i class="c2">L</i><i class="c10">G</i><i class="c1">K</i><i class="c9">N</i><i class="c15">VT</i><i class="c0">C</i><i class="c13">S</i><i class="c0">F</i><i class="c9">F</i><i class="c1">V</i><i class="c6">R</i><i class="c4">A</i><i class="c0">LP</i><i class="c4">W</i><i class="c5">NG</i><i class="c6">E</i><i class="c0">F</i><i class="c13">T</i><i class="c9">V</i><i class="c10">VK</i><i class="c9">R</i><i class="c13">H</i><i class="c0">C</i><i class="c14">V</i><i class="c5">D</i><i class="c14">A</i></div>
<div class="abs nm" style="top:306.0px">Loxodonta africana</div>
<div class="abs sq" style="top:305.9px"><i class="c1">M</i><i class="c14">P</i><i class="c9">R</i><i class="c16">P</i><i class="c15">G</i><i class="c13">L</i><i class="c10">T</i><i class="c13">S</i><i class="c2">L</i><i class="c9">L</i><i class="c5">LLT</i><i class="c9">I</i><i class="c12">L</i><i class="c10">V</i><i class="c9">T</i><i class="c2">L</i><i class="c9">V</i><i class="c10">AT</i><i class="c13">T</i><i class="c2">D</i><i class="c10">P</i><i class="c16">A</i><i class="c9">K</i><i class="c6">Y</i><i class="c14">QV</i><i class="c6">K</i><i class="c5">V</i><i class="c2">MR</i><i class="c14">T</i><i class="c3">L</i><i class="c13">K</i><i class="c14">P</i><i class="c9">V</i><i class="c13">DS</i><i class="c1">S</i><i class="c11">N</i><i class="c9">A</i><i class="c1">N</i><i class="c4">L</i><i class="c5">K</i><i class="c0">Q</i><i class="c1">C</i><i class="c2">L</i><i class="c4">W</i><i class="c1">FA</i><i class="c4">M</i><i class="c9">Q</i><i class="c5">E</i><i class="c4">Y</i><i class="c0">N</i><i class="c9">K</i><i class="c5">E</i><i class="c1">S</i><i class="c5">K</i><i class="c1">D</i><i class="c9">K</i><i class="c8">Y</i><i class="c10">I</i><i class="c0">F</i><i class="c13">Q</i><i class="c1">V</i><i class="c10">V</i><i class="c5">K</i><i class="c10">VL</i><i class="c9">QA</i><i class="c5">Q</i><i class="c8">M</i><i class="c0">Q</i><i class="c2">V</i><i class="c0">T</i><i class="c6">D</i><i class="c11">R</i><i class="c2">M</i><i class="c4">EY</i><i class="c10">F</i><i class="c1">T</i><i class="c5">EVE</i><i class="c0">I</i><i class="c6">A</i><i class="c4">R</i><i class="c5">S</i><i class="c9">T</i><i class="c0">C</i><i class="c9">K</i><i class="c0">K</i><i class="c7">P</i><i class="c10">L</i><i class="c6">N</i><i class="c14">N</i><i class="c11">T</i><i class="c4">E</i><i class="c10">N</i><i class="c0">C</i><i class="c14">V</i><i class="c5">I</i><i class="c2">Q</i><i class="c5">E</i><i class="c11">N</i><i class="c13">Y</i><i class="c9">K</i><i class="c2">L</i><i class="c10">G</i><i class="c1">K</i><i class="c9">K</i><i class="c15">VI</i><i class="c0">C</i><i class="c13">N</i><i class="c0">F</i><i class="c9">L</i><i class="c1">V</i><i class="c6">G</i><i class="c4">A</i><i class="c0">LP</i><i class="c4">W</i><i class="c5">NG</i><i class="c6">E</i><i class="c0">F</i><i class="c13">T</i><i class="c9">V</i><i class="c10">ME</i><i class="c9">T</i><i class="c13">K</i><i class="c0">C</i><i class="c14">V</i><i class="c5">D</i><i class="c14">T</i></div>
<div class="abs nm" style="top:327.4px">Pteropus vampyrus</div>
<div class="abs sq" style="top:327.3px"><i class="c1">M</i><i class="c14">T</i><i class="c9">G</i><i class="c16">L</i><i class="c15">R</i><i class="c13">D</i><i class="c10">S</i><i class="c13">C</i><i class="c2">L</i><i class="c9">I</i><i class="c5">LLT</i><i class="c9">L</i><i class="c12">L</i><i class="c10">V</i><i class="c9">A</i><i class="c2">L</i><i class="c9">V</i><i class="c10">AS</i><i class="c13">T</i><i class="c2">D</i><i class="c10">P</i><i class="c16">D</i><i class="c9">K</i><i class="c6">N</i><i class="c14">KV</i><i class="c6">K</i><i class="c5">V</i><i class="c2">LR</i><i class="c14">E</i><i class="c3">L</i><i class="c13">K</i><i class="c14">V</i><i class="c9">I</i><i class="c13">DA</i><i class="c1">S</i><i class="c11">N</i><i class="c9">A</i><i class="c1">N</i><i class="c4">V</i><i class="c5">K</i><i class="c0">Q</i><i class="c1">C</i><i class="c2">L</i><i class="c4">W</i><i class="c1">FA</i><i class="c4">M</i><i class="c9">Q</i><i class="c5">E</i><i class="c4">Y</i><i class="c0">N</i><i class="c9">K</i><i class="c5">E</i><i class="c1">S</i><i class="c5">E</i><i class="c1">D</i><i class="c9">K</i><i class="c8">Y</i><i class="c10">I</i><i class="c0">F</i><i class="c13">Q</i><i class="c1">V</i><i class="c10">V</i><i class="c5">K</i><i class="c10">IV</i><i class="c9">QV</i><i class="c5">Q</i><i class="c8">L</i><i class="c0">Q</i><i class="c2">I</i><i class="c0">T</i><i class="c6">D</i><i class="c11">R</i><i class="c2">L</i><i class="c4">EY</i><i class="c10">F</i><i class="c1">I</i><i class="c5">DVE</i><i class="c0">I</i><i class="c6">A</i><i class="c4">R</i><i class="c5">S</i><i class="c9">N</i><i class="c0">C</i><i class="c9">R</i><i class="c0">K</i><i class="c7">L</i><i class="c10">S</i><i class="c6">N</i><i class="c14">N</i><i class="c11">S</i><i class="c4">E</i><i class="c10">N</i><i class="c0">C</i><i class="c14">F</i><i class="c5">I</i><i class="c2">Q</i><i class="c5">E</i><i class="c11">N</i><i class="c13">S</i><i class="c9">K</i><i class="c2">M</i><i class="c10">E</i><i class="c1">K</i><i class="c9">R</i><i class="c15">VT</i><i class="c0">C</i><i class="c13">R</i><i class="c0">F</i><i class="c9">L</i><i class="c1">V</i><i class="c6">G</i><i class="c4">A</i><i class="c0">LP</i><i class="c4">W</i><i class="c5">NG</i><i class="c6">D</i><i class="c0">F</i><i class="c13">T</i><i class="c9">V</i><i class="c10">MK</i><i class="c9">K</i><i class="c13">Q</i><i class="c0">C</i><i class="c14">A</i><i class="c5">D</i><i class="c14">I</i></div>
<div class="abs nm" style="top:348.9px">Myotis lucifugus</div>
<div class="abs sq" style="top:348.8px"><i class="c1">M</i><i class="c14">T</i><i class="c9">R</i><i class="c16">L</i><i class="c15">G</i><i class="c13">G</i><i class="c10">S</i><i class="c13">C</i><i class="c2">L</i><i class="c9">F</i><i class="c5">LLT</i><i class="c9">L</i><i class="c12">V</i><i class="c10">V</i><i class="c9">A</i><i class="c2">L</i><i class="c9">V</i><i class="c10">AS</i><i class="c13">T</i><i class="c2">D</i><i class="c10">P</i><i class="c16">D</i><i class="c9">K</i><i class="c6">N</i><i class="c14">KV</i><i class="c6">K</i><i class="c5">V</i><i class="c2">IR</i><i class="c14">E</i><i class="c3">L</i><i class="c13">K</i><i class="c14">V</i><i class="c9">I</i><i class="c13">DA</i><i class="c1">S</i><i class="c11">N</i><i class="c9">Y</i><i class="c1">N</i><i class="c4">V</i><i class="c5">K</i><i class="c0">Q</i><i class="c1">C</i><i class="c2">L</i><i class="c4">W</i><i class="c1">FA</i><i class="c4">M</i><i class="c9">Q</i><i class="c5">E</i><i class="c4">Y</i><i class="c0">N</i><i class="c9">K</i><i class="c5">E</i><i class="c1">S</i><i class="c5">E</i><i class="c1">D</i><i class="c9">K</i><i class="c8">Y</i><i class="c10">I</i><i class="c0">F</i><i class="c13">H</i><i class="c1">V</i><i class="c10">V</i><i class="c5">K</i><i class="c10">IV</i><i class="c9">QV</i><i class="c5">Q</i><i class="c8">L</i><i class="c0">Q</i><i class="c2">V</i><i class="c0">T</i><i class="c6">D</i><i class="c11">R</i><i class="c2">L</i><i class="c4">EY</i><i class="c10">F</i><i class="c1">I</i><i class="c5">DVE</i><i class="c0">I</i><i class="c6">A</i><i class="c4">R</i><i class="c5">S</i><i class="c9">N</i><i class="c0">C</i><i class="c9">R</i><i class="c0">K</i><i class="c7">L</i><i class="c10">S</i><i class="c6">N</i><i class="c14">S</i><i class="c11">N</i><i class="c4">E</i><i class="c10">N</i><i class="c0">C</i><i class="c14">V</i><i class="c5">T</i><i class="c2">Q</i><i class="c5">E</i><i class="c11">N</i><i class="c13">S</i><i class="c9">K</i><i class="c2">L</i><i class="c10">A</i><i class="c1">K</i><i class="c9">K</i><i class="c15">MT</i><i class="c0">C</i><i class="c13">S</i><i class="c0">F</i><i class="c9">I</i><i class="c1">V</i><i class="c6">G</i><i class="c4">A</i><i class="c0">LP</i><i class="c4">W</i><i class="c5">NA</i><i class="c6">E</i><i class="c0">F</i><i class="c13">T</i><i class="c9">V</i><i class="c10">MK</i><i class="c9">M</i><i class="c13">Q</i><i class="c0">C</i><i class="c14">A</i><i class="c5">D</i><i class="c14">L</i></div>
<div class="abs nm" style="top:370.4px">Canis familiaris</div>
<div class="abs sq" style="top:370.3px"><i class="c1">M</i><i class="c14">T</i><i class="c9">R</i><i class="c16">S</i><i class="c15">W</i><i class="c13">G</i><i class="c10">S</i><i class="c13">C</i><i class="c2">L</i><i class="c9">L</i><i class="c5">LFT</i><i class="c9">I</i><i class="c12">F</i><i class="c10">G</i><i class="c9">A</i><i class="c2">L</i><i class="c9">V</i><i class="c10">AS</i><i class="c13">T</i><i class="c2">D</i><i class="c10">L</i><i class="c16">N</i><i class="c9">K</i><i class="c6">N</i><i class="c14">KA</i><i class="c6">K</i><i class="c5">V</i><i class="c2">LR</i><i class="c14">E</i><i class="c3">L</i><i class="c13">K</i><i class="c14">V</i><i class="c9">I</i><i class="c13">NA</i><i class="c1">S</i><i class="c11">N</i><i class="c9">A</i><i class="c1">N</i><i class="c4">V</i><i class="c5">K</i><i class="c0">Q</i><i class="c1">C</i><i class="c2">L</i><i class="c4">W</i><i class="c1">FA</i><i class="c4">M</i><i class="c9">Q</i><i class="c5">E</i><i class="c4">Y</i><i class="c0">N</i><i class="c9">K</i><i class="c5">E</i><i class="c1">S</i><i class="c5">E</i><i class="c1">D</i><i class="c9">K</i><i class="c8">Y</i><i class="c10">L</i><i class="c0">F</i><i class="c13">Q</i><i class="c1">V</i><i class="c10">V</i><i class="c5">K</i><i class="c10">TI</i><i class="c9">QV</i><i class="c5">Q</i><i class="c8">M</i><i class="c0">Q</i><i class="c2">V</i><i class="c0">T</i><i class="c6">D</i><i class="c11">H</i><i class="c2">L</i><i class="c4">EY</i><i class="c10">F</i><i class="c1">I</i><i class="c5">DVE</i><i class="c0">I</i><i class="c6">A</i><i class="c4">R</i><i class="c5">S</i><i class="c9">N</i><i class="c0">C</i><i class="c9">R</i><i class="c0">K</i><i class="c7">F</i><i class="c10">S</i><i class="c6">N</i><i class="c14">S</i><i class="c11">S</i><i class="c4">E</i><i class="c10">N</i><i class="c0">C</i><i class="c14">V</i><i class="c5">I</i><i class="c2">Q</i><i class="c5">E</i><i class="c11">S</i><i class="c13">S</i><i class="c9">K</i><i class="c2">L</i><i class="c10">E</i><i class="c1">K</i><i class="c9">K</i><i class="c15">VI</i><i class="c0">C</i><i class="c13">S</i><i class="c0">F</i><i class="c9">L</i><i class="c1">V</i><i class="c6">G</i><i class="c4">A</i><i class="c0">LP</i><i class="c4">W</i><i class="c5">NG</i><i class="c6">E</i><i class="c0">F</i><i class="c13">I</i><i class="c9">M</i><i class="c10">MK</i><i class="c9">K</i><i class="c13">Q</i><i class="c0">C</i><i class="c14">V</i><i class="c5">D</i><i class="c14">A</i></div>
<div class="abs nm" style="top:391.8px">Mustela putorius furo</div>
<div class="abs sq" style="top:391.7px"><i class="c1">M</i><i class="c14">T</i><i class="c9">R</i><i class="c16">S</i><i class="c15">W</i><i class="c13">G</i><i class="c10">T</i><i class="c13">C</i><i class="c2">L</i><i class="c9">L</i><i class="c5">LLT</i><i class="c9">I</i><i class="c12">L</i><i class="c10">V</i><i class="c9">A</i><i class="c2">L</i><i class="c9">V</i><i class="c10">SS</i><i class="c13">T</i><i class="c2">D</i><i class="c10">P</i><i class="c16">G</i><i class="c9">K</i><i class="c6">K</i><i class="c14">KV</i><i class="c6">K</i><i class="c5">V</i><i class="c2">LR</i><i class="c14">E</i><i class="c3">L</i><i class="c13">K</i><i class="c14">L</i><i class="c9">I</i><i class="c13">NA</i><i class="c1">S</i><i class="c11">N</i><i class="c9">A</i><i class="c1">N</i><i class="c4">V</i><i class="c5">K</i><i class="c0">Q</i><i class="c1">C</i><i class="c2">L</i><i class="c4">W</i><i class="c1">FA</i><i class="c4">M</i><i class="c9">Q</i><i class="c5">E</i><i class="c4">Y</i><i class="c0">N</i><i class="c9">K</i><i class="c5">E</i><i class="c1">S</i><i class="c5">E</i><i class="c1">D</i><i class="c9">K</i><i class="c8">Y</i><i class="c10">L</i><i class="c0">F</i><i class="c13">Q</i><i class="c1">V</i><i class="c10">V</i><i class="c5">K</i><i class="c10">TV</i><i class="c9">QV</i><i class="c5">Q</i><i class="c8">L</i><i class="c0">Q</i><i class="c2">V</i><i class="c0">T</i><i class="c6">D</i><i class="c11">R</i><i class="c2">L</i><i class="c4">EY</i><i class="c10">F</i><i class="c1">I</i><i class="c5">DVV</i><i class="c0">I</i><i class="c6">G</i><i class="c4">R</i><i class="c5">S</i><i class="c9">N</i><i class="c0">C</i><i class="c9">R</i><i class="c0">K</i><i class="c7">F</i><i class="c10">S</i><i class="c6">N</i><i class="c14">S</i><i class="c11">T</i><i class="c4">E</i><i class="c10">N</i><i class="c0">C</i><i class="c14">S</i><i class="c5">I</i><i class="c2">Q</i><i class="c5">E</i><i class="c11">N</i><i class="c13">S</i><i class="c9">K</i><i class="c2">L</i><i class="c10">E</i><i class="c1">K</i><i class="c9">K</i><i class="c15">VM</i><i class="c0">C</i><i class="c13">S</i><i class="c0">F</i><i class="c9">L</i><i class="c1">V</i><i class="c6">G</i><i class="c4">A</i><i class="c0">LP</i><i class="c4">W</i><i class="c5">NG</i><i class="c6">E</i><i class="c0">F</i><i class="c13">M</i><i class="c9">V</i><i class="c10">MK</i><i class="c9">K</i><i class="c13">Q</i><i class="c0">C</i><i class="c14">A</i><i class="c5">D</i><i class="c14">A</i></div>
<div class="abs nm" style="top:413.3px">Ailuropoda melanoleuca</div>
<div class="abs sq" style="top:413.2px"><i class="c1">M</i><i class="c14">A</i><i class="c9">R</i><i class="c16">S</i><i class="c15">W</i><i class="c13">G</i><i class="c10">S</i><i class="c13">Y</i><i class="c2">L</i><i class="c9">L</i><i class="c5">LLT</i><i class="c9">I</i><i class="c12">L</i><i class="c10">V</i><i class="c9">A</i><i class="c2">L</i><i class="c9">V</i><i class="c10">AS</i><i class="c13">T</i><i class="c2">D</i><i class="c10">P</i><i class="c16">G</i><i class="c9">K</i><i class="c6">N</i><i class="c14">NV</i><i class="c6">K</i><i class="c5">V</i><i class="c2">LR</i><i class="c14">E</i><i class="c3">L</i><i class="c13">K</i><i class="c14">V</i><i class="c9">I</i><i class="c13">NA</i><i class="c1">S</i><i class="c11">N</i><i class="c9">A</i><i class="c1">N</i><i class="c4">V</i><i class="c5">K</i><i class="c0">Q</i><i class="c1">C</i><i class="c2">L</i><i class="c4">W</i><i class="c1">FA</i><i class="c4">M</i><i class="c9">Q</i><i class="c5">E</i><i class="c4">Y</i><i class="c0">N</i><i class="c9">K</i><i class="c5">E</i><i class="c1">S</i><i class="c5">E</i><i class="c1">D</i><i class="c9">K</i><i class="c8">Y</i><i class="c10">L</i><i class="c0">F</i><i class="c13">Q</i><i class="c1">V</i><i class="c10">V</i><i class="c5">K</i><i class="c10">TV</i><i class="c9">QV</i><i class="c5">Q</i><i class="c8">L</i><i class="c0">Q</i><i class="c2">V</i><i class="c0">T</i><i class="c6">D</i><i class="c11">R</i><i class="c2">L</i><i class="c4">EY</i><i class="c10">F</i><i class="c1">I</i><i class="c5">DVE</i><i class="c0">I</i><i class="c6">G</i><i class="c4">R</i><i class="c5">S</i><i class="c9">N</i><i class="c0">C</i><i class="c9">R</i><i class="c0">K</i><i class="c7">F</i><i class="c10">S</i><i class="c6">N</i><i class="c14">S</i><i class="c11">T</i><i class="c4">E</i><i class="c10">N</i><i class="c0">C</i><i class="c14">A</i><i class="c5">I</i><i class="c2">Q</i><i class="c5">E</i><i class="c11">N</i><i class="c13">S</i><i class="c9">K</i><i class="c2">L</i><i class="c10">E</i><i class="c1">K</i><i class="c9">K</i><i class="c15">VM</i><i class="c0">C</i><i class="c13">S</i><i class="c0">F</i><i class="c9">L</i><i class="c1">I</i><i class="c6">G</i><i class="c4">A</i><i class="c0">LP</i><i class="c4">W</i><i class="c5">NG</i><i class="c6">E</i><i class="c0">F</i><i class="c13">M</i><i class="c9">V</i><i class="c10">IK</i><i class="c9">K</i><i class="c13">Q</i><i class="c0">C</i><i class="c14">A</i><i class="c5">D</i><i class="c14">A</i></div>
<div class="abs nm" style="top:434.7px">Felis catus</div>
<div class="abs sq" style="top:434.6px"><i class="c1">M</i><i class="c14">T</i><i class="c9">R</i><i class="c16">S</i><i class="c15">W</i><i class="c13">G</i><i class="c10">F</i><i class="c13">C</i><i class="c2">F</i><i class="c9">L</i><i class="c5">LIT</i><i class="c9">I</i><i class="c12">L</i><i class="c10">V</i><i class="c9">A</i><i class="c2">L</i><i class="c9">V</i><i class="c10">AS</i><i class="c13">T</i><i class="c2">D</i><i class="c10">P</i><i class="c16">D</i><i class="c9">K</i><i class="c6">N</i><i class="c14">KV</i><i class="c6">K</i><i class="c5">V</i><i class="c2">LR</i><i class="c14">E</i><i class="c3">L</i><i class="c13">K</i><i class="c14">A</i><i class="c9">I</i><i class="c13">NA</i><i class="c1">S</i><i class="c11">N</i><i class="c9">A</i><i class="c1">N</i><i class="c4">V</i><i class="c5">K</i><i class="c0">Q</i><i class="c1">C</i><i class="c2">L</i><i class="c4">W</i><i class="c1">FA</i><i class="c4">M</i><i class="c9">Q</i><i class="c5">E</i><i class="c4">Y</i><i class="c0">N</i><i class="c9">K</i><i class="c5">E</i><i class="c1">S</i><i class="c5">E</i><i class="c1">D</i><i class="c9">K</i><i class="c8">Y</i><i class="c10">I</i><i class="c0">F</i><i class="c13">Q</i><i class="c1">V</i><i class="c10">I</i><i class="c5">K</i><i class="c10">TI</i><i class="c9">QA</i><i class="c5">Q</i><i class="c8">L</i><i class="c0">Q</i><i class="c2">V</i><i class="c0">T</i><i class="c6">D</i><i class="c11">R</i><i class="c2">L</i><i class="c4">EY</i><i class="c10">F</i><i class="c1">I</i><i class="c5">DVE</i><i class="c0">I</i><i class="c6">A</i><i class="c4">R</i><i class="c5">S</i><i class="c9">N</i><i class="c0">C</i><i class="c9">R</i><i class="c0">K</i><i class="c7">L</i><i class="c10">S</i><i class="c6">N</i><i class="c14">G</i><i class="c11">T</i><i class="c4">E</i><i class="c10">N</i><i class="c0">C</i><i class="c14">V</i><i class="c5">I</i><i class="c2">Q</i><i class="c5">E</i><i class="c11">N</i><i class="c13">T</i><i class="c9">K</i><i class="c2">L</i><i class="c10">E</i><i class="c1">K</i><i class="c9">K</i><i class="c15">IM</i><i class="c0">C</i><i class="c13">S</i><i class="c0">F</i><i class="c9">L</i><i class="c1">V</i><i class="c6">G</i><i class="c4">A</i><i class="c0">LP</i><i class="c4">W</i><i class="c5">NG</i><i class="c6">E</i><i class="c0">F</i><i class="c13">T</i><i class="c9">V</i><i class="c10">MK</i><i class="c9">K</i><i class="c13">Q</i><i class="c0">C</i><i class="c14">V</i><i class="c5">D</i><i class="c14">A</i></div>
<div class="abs nm" style="top:456.2px">Erinaceus europaeus</div>
<div class="abs sq" style="top:456.1px"><i class="c1">M</i><i class="c14">T</i><i class="c9">G</i><i class="c16">P</i><i class="c15">Q</i><i class="c13">G</i><i class="c10">S</i><i class="c13">C</i><i class="c2">L</i><i class="c9">L</i><i class="c5">LLA</i><i class="c9">L</i><i class="c12">V</i><i class="c10">V</i><i class="c9">V</i><i class="c2">L</i><i class="c9">V</i><i class="c10">IS</i><i class="c13">I</i><i class="c2">D</i><i class="c10">P</i><i class="c16">D</i><i class="c9">K</i><i class="c6">N</i><i class="c14">KI</i><i class="c6">K</i><i class="c5">V</i><i class="c2">LR</i><i class="c14">E</i><i class="c3">L</i><i class="c13">K</i><i class="c14">V</i><i class="c9">I</i><i class="c13">NA</i><i class="c1">S</i><i class="c11">N</i><i class="c9">A</i><i class="c1">N</i><i class="c4">V</i><i class="c5">K</i><i class="c0">Q</i><i class="c1">C</i><i class="c2">L</i><i class="c4">W</i><i class="c1">FA</i><i class="c4">M</i><i class="c9">Q</i><i class="c5">E</i><i class="c4">Y</i><i class="c0">N</i><i class="c9">K</i><i class="c5">E</i><i class="c1">S</i><i class="c5">E</i><i class="c1">D</i><i class="c9">K</i><i class="c8">Y</i><i class="c10">L</i><i class="c0">F</i><i class="c13">H</i><i class="c1">V</i><i class="c10">V</i><i class="c5">K</i><i class="c10">IV</i><i class="c9">QA</i><i class="c5">Q</i><i class="c8">L</i><i class="c0">Q</i><i class="c2">V</i><i class="c0">T</i><i class="c6">D</i><i class="c11">H</i><i class="c2">L</i><i class="c4">EY</i><i class="c10">F</i><i class="c1">L</i><i class="c5">DVE</i><i class="c0">I</i><i class="c6">A</i><i class="c4">R</i><i class="c5">S</i><i class="c9">N</i><i class="c0">C</i><i class="c9">K</i><i class="c0">K</i><i class="c7">L</i><i class="c10">S</i><i class="c6">N</i><i class="c14">N</i><i class="c11">N</i><i class="c4">E</i><i class="c10">N</i><i class="c0">C</i><i class="c14">V</i><i class="c5">I</i><i class="c2">Q</i><i class="c5">E</i><i class="c11">N</i><i class="c13">V</i><i class="c9">K</i><i class="c2">L</i><i class="c10">E</i><i class="c1">K</i><i class="c9">R</i><i class="c15">AV</i><i class="c0">C</i><i class="c13">N</i><i class="c0">F</i><i class="c9">L</i><i class="c1">V</i><i class="c6">S</i><i class="c4">A</i><i class="c0">LP</i><i class="c4">W</i><i class="c5">NG</i><i class="c6">E</i><i class="c0">F</i><i class="c13">N</i><i class="c9">V</i><i class="c10">MK</i><i class="c9">K</i><i class="c13">K</i><i class="c0">C</i><i class="c14">V</i><i class="c5">D</i><i class="c14">A</i></div>
<div class="abs nm" style="top:477.6px">Equus caballus</div>
<div class="abs sq" style="top:477.5px"><i class="c1">M</i><i class="c14">T</i><i class="c9">R</i><i class="c16">P</i><i class="c15">H</i><i class="c13">G</i><i class="c10">S</i><i class="c13">S</i><i class="c2">L</i><i class="c9">L</i><i class="c5">LFT</i><i class="c9">I</i><i class="c12">L</i><i class="c10">V</i><i class="c9">A</i><i class="c2">L</i><i class="c9">V</i><i class="c10">AS</i><i class="c13">T</i><i class="c2">D</i><i class="c10">P</i><i class="c16">E</i><i class="c9">K</i><i class="c6">N</i><i class="c14">RL</i><i class="c6">K</i><i class="c5">A</i><i class="c2">WR</i><i class="c14">E</i><i class="c3">L</i><i class="c13">N</i><i class="c14">I</i><i class="c9">I</i><i class="c13">SA</i><i class="c1">S</i><i class="c11">N</i><i class="c9">A</i><i class="c1">N</i><i class="c4">V</i><i class="c5">R</i><i class="c0">Q</i><i class="c1">C</i><i class="c2">L</i><i class="c4">W</i><i class="c1">FA</i><i class="c4">L</i><i class="c9">Q</i><i class="c5">E</i><i class="c4">Y</i><i class="c0">N</i><i class="c9">K</i><i class="c5">E</i><i class="c1">S</i><i class="c5">E</i><i class="c1">D</i><i class="c9">K</i><i class="c8">Y</i><i class="c10">V</i><i class="c0">F</i><i class="c13">Q</i><i class="c1">V</i><i class="c10">V</i><i class="c5">K</i><i class="c10">IG</i><i class="c9">QV</i><i class="c5">R</i><i class="c8">M</i><i class="c0">Q</i><i class="c2">V</i><i class="c0">T</i><i class="c6">D</i><i class="c11">R</i><i class="c2">L</i><i class="c4">VY</i><i class="c10">F</i><i class="c1">I</i><i class="c5">DVE</i><i class="c0">I</i><i class="c6">A</i><i class="c4">R</i><i class="c5">S</i><i class="c9">N</i><i class="c0">C</i><i class="c9">R</i><i class="c0">K</i><i class="c7">L</i><i class="c10">S</i><i class="c6">D</i><i class="c14">N</i><i class="c11">N</i><i class="c4">E</i><i class="c10">N</i><i class="c0">C</i><i class="c14">I</i><i class="c5">V</i><i class="c2">Q</i><i class="c5">E</i><i class="c11">N</i><i class="c13">I</i><i class="c9">K</i><i class="c2">L</i><i class="c10">E</i><i class="c1">K</i><i class="c9">R</i><i class="c15">VM</i><i class="c0">C</i><i class="c13">S</i><i class="c0">F</i><i class="c9">V</i><i class="c1">V</i><i class="c6">G</i><i class="c4">A</i><i class="c0">LP</i><i class="c4">W</i><i class="c5">NG</i><i class="c6">E</i><i class="c0">F</i><i class="c13">V</i><i class="c9">V</i><i class="c10">MK</i><i class="c9">K</i><i class="c13">E</i><i class="c0">C</i><i class="c14">A</i><i class="c5">D</i><i class="c14">A</i></div>
<div class="abs nm" style="top:499.1px">Choloepus hoffmanni</div>
<div class="abs sq" style="top:499.0px"><i class="c1">M</i><i class="c14">S</i><i class="c9">I</i><i class="c16">H</i><i class="c15">W</i><i class="c13">W</i><i class="c10">S</i><i class="c13">S</i><i class="c2">L</i><i class="c9">I</i><i class="c5">LLS</i><i class="c9">M</i><i class="c12">L</i><i class="c10">V</i><i class="c9">A</i><i class="c2">L</i><i class="c9">A</i><i class="c10">DN</i><i class="c13">T</i><i class="c2">D</i><i class="c10">P</i><i class="c16">D</i><i class="c9">K</i><i class="c6">N</i><i class="c14">KV</i><i class="c6">K</i><i class="c5">A</i><i class="c2">LR</i><i class="c14">K</i><i class="c3">I</i><i class="c13">N</i><i class="c14">L</i><i class="c9">K</i><i class="c13">NS</i><i class="c1">S</i><i class="c11">N</i><i class="c9">S</i><i class="c1">N</i><i class="c4">V</i><i class="c5">K</i><i class="c0">Q</i><i class="c1">C</i><i class="c2">L</i><i class="c4">W</i><i class="c1">FA</i><i class="c4">M</i><i class="c9">K</i><i class="c5">E</i><i class="c4">Y</i><i class="c0">N</i><i class="c9">K</i><i class="c5">E</i><i class="c1">S</i><i class="c5">E</i><i class="c1">D</i><i class="c9">K</i><i class="c8">Y</i><i class="c10">V</i><i class="c0">F</i><i class="c13">Q</i><i class="c1">V</i><i class="c10">V</i><i class="c5">K</i><i class="c10">IL</i><i class="c9">QV</i><i class="c5">Q</i><i class="c8">L</i><i class="c0">Q</i><i class="c2">V</i><i class="c0">T</i><i class="c6">D</i><i class="c11">R</i><i class="c2">M</i><i class="c4">EY</i><i class="c10">F</i><i class="c1">I</i><i class="c5">DVE</i><i class="c0">I</i><i class="c6">A</i><i class="c4">H</i><i class="c5">S</i><i class="c9">N</i><i class="c0">C</i><i class="c9">R</i><i class="c0">K</i><i class="c7">P</i><i class="c10">L</i><i class="c6">N</i><i class="c14">H</i><i class="c11">S</i><i class="c4">E</i><i class="c10">S</i><i class="c0">C</i><i class="c14">V</i><i class="c5">V</i><i class="c2">Q</i><i class="c5">E</i><i class="c11">N</i><i class="c13">S</i><i class="c9">K</i><i class="c2">L</i><i class="c10">E</i><i class="c1">K</i><i class="c9">K</i><i class="c15">TV</i><i class="c0">C</i><i class="c13">S</i><i class="c0">F</i><i class="c9">V</i><i class="c1">V</i><i class="c6">G</i><i class="c4">A</i><i class="c0">LP</i><i class="c4">W</i><i class="c5">NG</i><i class="c6">D</i><i class="c0">F</i><i class="c13">T</i><i class="c9">V</i><i class="c10">MK</i><i class="c9">K</i><i class="c13">Q</i><i class="c0">C</i><i class="c14">A</i><i class="c5">D</i><i class="c14">D</i></div>
<div class="abs nm" style="top:520.5px">Dasypus novemcinctus</div>
<div class="abs sq" style="top:520.4px"><i class="c1">M</i><i class="c14">S</i><i class="c9">R</i><i class="c16">P</i><i class="c15">W</i><i class="c13">W</i><i class="c10">S</i><i class="c13">S</i><i class="c2">L</i><i class="c9">L</i><i class="c5">LLA</i><i class="c9">M</i><i class="c12">L</i><i class="c10">V</i><i class="c9">A</i><i class="c2">L</i><i class="c9">A</i><i class="c10">AS</i><i class="c13">T</i><i class="c2">D</i><i class="c10">P</i><i class="c16">Q</i><i class="c9">K</i><i class="c6">N</i><i class="c14">EL</i><i class="c6">K</i><i class="c5">A</i><i class="c2">LR</i><i class="c14">K</i><i class="c3">I</i><i class="c13">N</i><i class="c14">L</i><i class="c9">K</i><i class="c13">NS</i><i class="c1">S</i><i class="c11">N</i><i class="c9">A</i><i class="c1">N</i><i class="c4">V</i><i class="c5">K</i><i class="c0">Q</i><i class="c1">C</i><i class="c2">L</i><i class="c4">W</i><i class="c1">FA</i><i class="c4">M</i><i class="c9">Q</i><i class="c5">E</i><i class="c4">Y</i><i class="c0">N</i><i class="c9">K</i><i class="c5">K</i><i class="c1">S</i><i class="c5">E</i><i class="c1">D</i><i class="c9">K</i><i class="c8">Y</i><i class="c10">I</i><i class="c0">F</i><i class="c13">Q</i><i class="c1">V</i><i class="c10">V</i><i class="c5">K</i><i class="c10">IL</i><i class="c9">QA</i><i class="c5">Q</i><i class="c8">M</i><i class="c0">Q</i><i class="c2">V</i><i class="c0">T</i><i class="c6">N</i><i class="c11">R</i><i class="c2">M</i><i class="c4">EY</i><i class="c10">F</i><i class="c1">I</i><i class="c5">DVE</i><i class="c0">I</i><i class="c6">A</i><i class="c4">R</i><i class="c5">T</i><i class="c9">N</i><i class="c0">C</i><i class="c9">R</i><i class="c0">K</i><i class="c7">P</i><i class="c10">L</i><i class="c6">N</i><i class="c14">V</i><i class="c11">S</i><i class="c4">E</i><i class="c10">N</i><i class="c0">C</i><i class="c14">A</i><i class="c5">I</i><i class="c2">Q</i><i class="c5">E</i><i class="c11">N</i><i class="c13">S</i><i class="c9">K</i><i class="c2">L</i><i class="c10">E</i><i class="c1">K</i><i class="c9">K</i><i class="c15">AN</i><i class="c0">C</i><i class="c13">N</i><i class="c0">F</i><i class="c9">L</i><i class="c1">V</i><i class="c6">G</i><i class="c4">A</i><i class="c0">LP</i><i class="c4">W</i><i class="c5">NG</i><i class="c6">E</i><i class="c0">F</i><i class="c13">T</i><i class="c9">V</i><i class="c10">MK</i><i class="c9">K</i><i class="c13">Q</i><i class="c0">C</i><i class="c14">T</i><i class="c5">D</i><i class="c14">A</i></div>
<div class="abs nm" style="top:542.0px">Oryctolagus cuniculus</div>
<div class="abs sq" style="top:541.9px"><i class="c1">M</i><i class="c14">I</i><i class="c9">S</i><i class="c16">S</i><i class="c15">W</i><i class="c13">K</i><i class="c10">L</i><i class="c13">S</i><i class="c2">L</i><i class="c9">L</i><i class="c5">LLT</i><i class="c9">L</i><i class="c12">S</i><i class="c10">L</i><i class="c9">A</i><i class="c2">L</i><i class="c9">A</i><i class="c10">AS</i><i class="c13">Q</i><i class="c2">E</i><i class="c10">P</i><i class="c16">S</i><i class="c9">N</i><i class="c6">N</i><i class="c14">EM</i><i class="c6">K</i><i class="c5">V</i><i class="c2">LR</i><i class="c14">T</i><i class="c3">L</i><i class="c13">T</i><i class="c14">P</i><i class="c9">V</i><i class="c13">NV</i><i class="c1">T</i><i class="c11">N</i><i class="c9">A</i><i class="c1">N</i><i class="c4">V</i><i class="c5">R</i><i class="c0">Q</i><i class="c1">S</i><i class="c2">L</i><i class="c4">W</i><i class="c1">FA</i><i class="c4">M</i><i class="c9">Q</i><i class="c5">E</i><i class="c4">Y</i><i class="c0">N</i><i class="c9">K</i><i class="c5">H</i><i class="c1">S</i><i class="c5">E</i><i class="c1">D</i><i class="c9">E</i><i class="c8">Y</i><i class="c10">V</i><i class="c0">F</i><i class="c13">L</i><i class="c1">V</i><i class="c10">A</i><i class="c5">K</i><i class="c10">IL</i><i class="c9">QA</i><i class="c5">Q</i><i class="c8">L</i><i class="c0">Q</i><i class="c2">I</i><i class="c0">T</i><i class="c6">D</i><i class="c11">R</i><i class="c2">L</i><i class="c4">EY</i><i class="c10">L</i><i class="c1">I</i><i class="c5">DAE</i><i class="c0">I</i><i class="c6">A</i><i class="c4">R</i><i class="c5">S</i><i class="c9">T</i><i class="c0">C</i><i class="c9">R</i><i class="c0">K</i><i class="c7">P</i><i class="c10">V</i><i class="c6">S</i><i class="c14">E</i><i class="c11">D</i><i class="c4">E</i><i class="c10">G</i><i class="c0">C</i><i class="c14">V</i><i class="c5">I</i><i class="c2">E</i><i class="c5">E</i><i class="c11">N</i><i class="c13">A</i><i class="c9">K</i><i class="c2">L</i><i class="c10">G</i><i class="c1">K</i><i class="c9">K</i><i class="c15">LY</i><i class="c0">C</i><i class="c13">N</i><i class="c0">F</i><i class="c9">W</i><i class="c1">V</i><i class="c6">R</i><i class="c4">T</i><i class="c0">LP</i><i class="c4">W</i><i class="c5">NG</i><i class="c6">E</i><i class="c0">F</i><i class="c13">T</i><i class="c9">V</i><i class="c10">IE</i><i class="c9">K</i><i class="c13">H</i><i class="c0">C</i><i class="c14">K</i><i class="c5">D</i><i class="c14">V</i></div>
<div class="abs nm" style="top:563.4px">Microcebus murinus</div>
<div class="abs sq" style="top:563.3px"><i class="c1">M</i><i class="c14">S</i><i class="c9">R</i><i class="c16">P</i><i class="c15">W</i><i class="c13">W</i><i class="c10">L</i><i class="c13">S</i><i class="c2">L</i><i class="c9">F</i><i class="c5">LLT</i><i class="c9">L</i><i class="c12">P</i><i class="c10">M</i><i class="c9">G</i><i class="c2">L</i><i class="c9">V</i><i class="c10">AS</i><i class="c13">T</i><i class="c2">D</i><i class="c10">P</i><i class="c16">G</i><i class="c9">K</i><i class="c6">N</i><i class="c14">EL</i><i class="c6">M</i><i class="c5">E</i><i class="c2">LR</i><i class="c14">T</i><i class="c3">F</i><i class="c13">K</i><i class="c14">T</i><i class="c9">I</i><i class="c13">NT</i><i class="c1">T</i><i class="c11">S</i><i class="c9">S</i><i class="c1">N</i><i class="c4">V</i><i class="c5">K</i><i class="c0">Q</i><i class="c1">C</i><i class="c2">L</i><i class="c4">W</i><i class="c1">FA</i><i class="c4">M</i><i class="c9">Q</i><i class="c5">E</i><i class="c4">Y</i><i class="c0">N</i><i class="c9">K</i><i class="c5">E</i><i class="c1">S</i><i class="c5">E</i><i class="c1">D</i><i class="c9">K</i><i class="c8">Y</i><i class="c10">I</i><i class="c0">F</i><i class="c13">M</i><i class="c1">V</i><i class="c10">T</i><i class="c5">R</i><i class="c10">VL</i><i class="c9">RA</i><i class="c5">Q</i><i class="c8">L</i><i class="c0">R</i><i class="c2">V</i><i class="c0">T</i><i class="c6">Y</i><i class="c11">C</i><i class="c2">L</i><i class="c4">EY</i><i class="c10">I</i><i class="c1">I</i><i class="c5">DVE</i><i class="c0">I</i><i class="c6">V</i><i class="c4">R</i><i class="c5">S</i><i class="c9">N</i><i class="c0">C</i><i class="c9">K</i><i class="c0">K</i><i class="c7">I</i><i class="c10">S</i><i class="c6">S</i><i class="c14">N</i><i class="c11">N</i><i class="c4">E</i><i class="c10">N</i><i class="c0">C</i><i class="c14">A</i><i class="c5">I</i><i class="c2">Q</i><i class="c5">R</i><i class="c11">N</i><i class="c13">S</i><i class="c9">K</i><i class="c2">L</i><i class="c10">E</i><i class="c1">K</i><i class="c9">K</i><i class="c15">VS</i><i class="c0">C</i><i class="c13">T</i><i class="c0">F</i><i class="c9">F</i><i class="c1">M</i><i class="c6">E</i><i class="c4">A</i><i class="c0">LP</i><i class="c4">W</i><i class="c5">NG</i><i class="c6">E</i><i class="c0">F</i><i class="c13">N</i><i class="c9">L</i><i class="c10">IE</i><i class="c9">K</i><i class="c13">E</i><i class="c0">C</i><i class="c14">K</i><i class="c5">D</i><i class="c14">A</i></div>
<div class="abs nm" style="top:584.9px">Otolemur garnettii</div>
<div class="abs sq" style="top:584.8px"><i class="c1">M</i><i class="c14">S</i><i class="c9">T</i><i class="c16">A</i><i class="c15">W</i><i class="c13">C</i><i class="c10">L</i><i class="c13">S</i><i class="c2">L</i><i class="c9">L</i><i class="c5">FLT</i><i class="c9">L</i><i class="c12">P</i><i class="c10">V</i><i class="c9">A</i><i class="c2">L</i><i class="c9">V</i><i class="c10">AD</i><i class="c13">I</i><i class="c2">D</i><i class="c10">P</i><i class="c16">G</i><i class="c9">E</i><i class="c6">N</i><i class="c14">EV</i><i class="c6">M</i><i class="c5">V</i><i class="c2">LK</i><i class="c14">N</i><i class="c3">F</i><i class="c13">K</i><i class="c14">P</i><i class="c9">I</i><i class="c13">DA</i><i class="c1">S</i><i class="c11">H</i><i class="c9">S</i><i class="c1">T</i><i class="c4">V</i><i class="c5">K</i><i class="c0">Q</i><i class="c1">C</i><i class="c2">L</i><i class="c4">W</i><i class="c1">FA</i><i class="c4">M</i><i class="c9">R</i><i class="c5">Q</i><i class="c4">Y</i><i class="c0">N</i><i class="c9">R</i><i class="c5">E</i><i class="c1">S</i><i class="c5">E</i><i class="c1">D</i><i class="c9">K</i><i class="c8">Y</i><i class="c10">L</i><i class="c0">F</i><i class="c13">M</i><i class="c1">V</i><i class="c10">N</i><i class="c5">N</i><i class="c10">VL</i><i class="c9">QA</i><i class="c5">Q</i><i class="c8">L</i><i class="c0">R</i><i class="c2">I</i><i class="c0">T</i><i class="c6">H</i><i class="c11">C</i><i class="c2">L</i><i class="c4">EY</i><i class="c10">I</i><i class="c1">I</i><i class="c5">DVE</i><i class="c0">I</i><i class="c6">M</i><i class="c4">R</i><i class="c5">S</i><i class="c9">N</i><i class="c0">C</i><i class="c9">K</i><i class="c0">K</i><i class="c7">I</i><i class="c10">S</i><i class="c6">S</i><i class="c14">N</i><i class="c11">D</i><i class="c4">E</i><i class="c10">N</i><i class="c0">C</i><i class="c14">V</i><i class="c5">I</i><i class="c2">Q</i><i class="c5">E</i><i class="c11">N</i><i class="c13">S</i><i class="c9">R</i><i class="c2">M</i><i class="c10">K</i><i class="c1">K</i><i class="c9">K</i><i class="c15">QS</i><i class="c0">C</i><i class="c13">S</i><i class="c0">F</i><i class="c9">L</i><i class="c1">V</i><i class="c6">E</i><i class="c4">T</i><i class="c0">LP</i><i class="c4">W</i><i class="c5">NG</i><i class="c6">E</i><i class="c0">F</i><i class="c13">K</i><i class="c9">L</i><i class="c10">IK</i><i class="c9">K</i><i class="c13">Q</i><i class="c0">C</i><i class="c14">E</i><i class="c5">D</i><i class="c14">I</i></div>
<div class="abs nm" style="top:606.4px">Ictidomys tridecemlineatus</div>
<div class="abs sq" style="top:606.3px"><i class="c1">M</i><i class="c14">N</i><i class="c9">R</i><i class="c16">Q</i><i class="c15">L</i><i class="c13">W</i><i class="c10">L</i><i class="c13">F</i><i class="c2">L</i><i class="c9">L</i><i class="c5">LLT</i><i class="c9">I</i><i class="c12">H</i><i class="c10">V</i><i class="c9">A</i><i class="c2">L</i><i class="c9">V</i><i class="c10">VS</i><i class="c13">I</i><i class="c2">D</i><i class="c10">E</i><i class="c16">A</i><i class="c9">K</i><i class="c6">N</i><i class="c14">QI</i><i class="c6">K</i><i class="c5">V</i><i class="c2">LR</i><i class="c14">E</i><i class="c3">F</i><i class="c13">K</i><i class="c14">S</i><i class="c9">I</i><i class="c13">SN</i><i class="c1">S</i><i class="c11">N</i><i class="c9">T</i><i class="c1">N</i><i class="c4">V</i><i class="c5">R</i><i class="c0">Q</i><i class="c1">C</i><i class="c2">L</i><i class="c4">W</i><i class="c1">FA</i><i class="c4">M</i><i class="c9">R</i><i class="c5">E</i><i class="c4">Y</i><i class="c0">N</i><i class="c9">E</i><i class="c5">E</i><i class="c1">S</i><i class="c5">E</i><i class="c1">D</i><i class="c9">N</i><i class="c8">N</i><i class="c10">I</i><i class="c0">F</i><i class="c13">I</i><i class="c1">V</i><i class="c10">T</i><i class="c5">R</i><i class="c10">IL</i><i class="c9">QS</i><i class="c5">Y</i><i class="c8">L</i><i class="c0">Q</i><i class="c2">I</i><i class="c0">T</i><i class="c6">D</i><i class="c11">R</i><i class="c2">M</i><i class="c4">EY</i><i class="c10">L</i><i class="c1">I</i><i class="c5">EVE</i><i class="c0">I</i><i class="c6">A</i><i class="c4">R</i><i class="c5">S</i><i class="c9">T</i><i class="c0">C</i><i class="c9">K</i><i class="c0">K</i><i class="c7">P</i><i class="c10">L</i><i class="c6">N</i><i class="c14">N</i><i class="c11">E</i><i class="c4">E</i><i class="c10">D</i><i class="c0">C</i><i class="c14">V</i><i class="c5">I</i><i class="c2">Q</i><i class="c5">E</i><i class="c11">D</i><i class="c13">S</i><i class="c9">D</i><i class="c2">L</i><i class="c10">K</i><i class="c1">K</i><i class="c9">A</i><i class="c15">EI</i><i class="c0">C</i><i class="c13">S</i><i class="c0">F</i><i class="c9">L</i><i class="c1">V</i><i class="c6">A</i><i class="c4">A</i><i class="c0">LP</i><i class="c4">W</i><i class="c5">NG</i><i class="c6">E</i><i class="c0">F</i><i class="c13">I</i><i class="c9">V</i><i class="c10">LK</i><i class="c9">K</i><i class="c13">E</i><i class="c0">C</i><i class="c14">E</i><i class="c5">D</i><i class="c14">Y</i></div>
<div class="abs nm" style="top:627.8px">Sorex araneus</div>
<div class="abs sq" style="top:627.7px"><i class="c1">M</i><i class="c14">T</i><i class="c9">R</i><i class="c16">T</i><i class="c15">Q</i><i class="c13">R</i><i class="c10">T</i><i class="c13">F</i><i class="c2">L</i><i class="c9">L</i><i class="c5">FLT</i><i class="c9">Y</i><i class="c12">L</i><i class="c10">L</i><i class="c9">V</i><i class="c2">I</i><i class="c9">A</i><i class="c10">TN</i><i class="c13">A</i><i class="c2">H</i><i class="c10">A</i><i class="c16">E</i><i class="c9">N</i><i class="c6">N</i><i class="c14">QI</i><i class="c6">K</i><i class="c5">V</i><i class="c2">LR</i><i class="c14">E</i><i class="c3">L</i><i class="c13">K</i><i class="c14">E</i><i class="c9">V</i><i class="c13">DA</i><i class="c1">S</i><i class="c11">S</i><i class="c9">A</i><i class="c1">N</i><i class="c4">V</i><i class="c5">R</i><i class="c0">Q</i><i class="c1">C</i><i class="c2">L</i><i class="c4">W</i><i class="c1">FS</i><i class="c4">M</i><i class="c9">E</i><i class="c5">E</i><i class="c4">Y</i><i class="c0">N</i><i class="c9">K</i><i class="c5">D</i><i class="c1">S</i><i class="c5">E</i><i class="c1">D</i><i class="c9">E</i><i class="c8">Y</i><i class="c10">L</i><i class="c0">F</i><i class="c13">Q</i><i class="c1">V</i><i class="c10">T</i><i class="c5">K</i><i class="c10">VV</i><i class="c9">QA</i><i class="c5">Q</i><i class="c8">L</i><i class="c0">Q</i><i class="c2">V</i><i class="c0">T</i><i class="c6">D</i><i class="c11">H</i><i class="c2">L</i><i class="c4">DY</i><i class="c10">S</i><i class="c1">I</i><i class="c5">DVE</i><i class="c0">V</i><i class="c6">A</i><i class="c4">R</i><i class="c5">S</i><i class="c9">N</i><i class="c0">C</i><i class="c9">I</i><i class="c0">K</i><i class="c7">A</i><i class="c10">S</i><i class="c6">T</i><i class="c14">N</i><i class="c11">N</i><i class="c4">E</i><i class="c10">S</i><i class="c0">C</i><i class="c14">G</i><i class="c5">I</i><i class="c2">Q</i><i class="c5">E</i><i class="c11">N</i><i class="c13">S</i><i class="c9">Q</i><i class="c2">L</i><i class="c10">E</i><i class="c1">K</i><i class="c9">R</i><i class="c15">AA</i><i class="c0">C</i><i class="c13">N</i><i class="c0">F</i><i class="c9">L</i><i class="c1">V</i><i class="c6">S</i><i class="c4">A</i><i class="c0">LP</i><i class="c4">W</i><i class="c5">NG</i><i class="c6">E</i><i class="c0">F</i><i class="c13">I</i><i class="c9">V</i><i class="c10">VK</i><i class="c9">K</i><i class="c13">Q</i><i class="c0">C</i><i class="c14">V</i><i class="c5">E</i><i class="c14">I</i></div>
<div class="abs nm" style="top:649.3px">Cavia porcellus</div>
<div class="abs sq" style="top:649.2px"><i class="c1">M</i><i class="c14">I</i><i class="c9">R</i><i class="c16">P</i><i class="c15">R</i><i class="c13">G</i><i class="c10">L</i><i class="c13">P</i><i class="c2">L</i><i class="c9">L</i><i class="c5">LLT</i><i class="c9">I</i><i class="c12">-</i><i class="c10">-</i><i class="c9">-</i><i class="c2">L</i><i class="c9">L</i><i class="c10">AS</i><i class="c13">I</i><i class="c2">D</i><i class="c10">P</i><i class="c16">A</i><i class="c9">K</i><i class="c6">N</i><i class="c14">TS</i><i class="c6">N</i><i class="c5">V</i><i class="c2">LR</i><i class="c14">P</i><i class="c3">F</i><i class="c13">K</i><i class="c14">S</i><i class="c9">V</i><i class="c13">EF</i><i class="c1">S</i><i class="c11">D</i><i class="c9">A</i><i class="c1">N</i><i class="c4">M</i><i class="c5">R</i><i class="c0">Q</i><i class="c1">C</i><i class="c2">L</i><i class="c4">W</i><i class="c1">FA</i><i class="c4">M</i><i class="c9">E</i><i class="c5">E</i><i class="c4">Y</i><i class="c0">N</i><i class="c9">K</i><i class="c5">E</i><i class="c1">S</i><i class="c5">K</i><i class="c1">D</i><i class="c9">E</i><i class="c8">Y</i><i class="c10">I</i><i class="c0">F</i><i class="c13">L</i><i class="c1">S</i><i class="c10">S</i><i class="c5">Q</i><i class="c10">IL</i><i class="c9">QA</i><i class="c5">Q</i><i class="c8">L</i><i class="c0">Q</i><i class="c2">L</i><i class="c0">T</i><i class="c6">D</i><i class="c11">R</i><i class="c2">M</i><i class="c4">EY</i><i class="c10">M</i><i class="c1">I</i><i class="c5">ETE</i><i class="c0">V</i><i class="c6">A</i><i class="c4">R</i><i class="c5">T</i><i class="c9">N</i><i class="c0">C</i><i class="c9">T</i><i class="c0">K</i><i class="c7">P</i><i class="c10">Y</i><i class="c6">S</i><i class="c14">N</i><i class="c11">N</i><i class="c4">E</i><i class="c10">I</i><i class="c0">C</i><i class="c14">V</i><i class="c5">I</i><i class="c2">Q</i><i class="c5">E</i><i class="c11">N</i><i class="c13">T</i><i class="c9">N</i><i class="c2">L</i><i class="c10">E</i><i class="c1">K</i><i class="c9">K</i><i class="c15">MN</i><i class="c0">C</i><i class="c13">I</i><i class="c0">F</i><i class="c9">L</i><i class="c1">V</i><i class="c6">G</i><i class="c4">A</i><i class="c0">LP</i><i class="c4">W</i><i class="c5">NG</i><i class="c6">D</i><i class="c0">F</i><i class="c13">L</i><i class="c9">M</i><i class="c10">LM</i><i class="c9">K</i><i class="c13">D</i><i class="c0">C</i><i class="c14">S</i><i class="c5">E</i><i class="c14">I</i></div>
<div class="abs nm" style="top:670.7px">Rattus norvegicus</div>
<div class="abs sq" style="top:670.6px"><i class="c1">M</i><i class="c14">T</i><i class="c9">K</i><i class="c16">P</i><i class="c15">L</i><i class="c13">L</i><i class="c10">L</i><i class="c13">S</i><i class="c2">L</i><i class="c9">I</i><i class="c5">FFI</i><i class="c9">I</i><i class="c12">P</i><i class="c10">A</i><i class="c9">A</i><i class="c2">L</i><i class="c9">A</i><i class="c10">VD</i><i class="c13">V</i><i class="c2">D</i><i class="c10">Q</i><i class="c16">S</i><i class="c9">K</i><i class="c6">N</i><i class="c14">EV</i><i class="c6">K</i><i class="c5">A</i><i class="c2">QR</i><i class="c14">Y</i><i class="c3">F</i><i class="c13">G</i><i class="c14">S</i><i class="c9">I</i><i class="c13">SI</i><i class="c1">S</i><i class="c11">N</i><i class="c9">A</i><i class="c1">N</i><i class="c4">V</i><i class="c5">K</i><i class="c0">Q</i><i class="c1">C</i><i class="c2">V</i><i class="c4">W</i><i class="c1">FA</i><i class="c4">M</i><i class="c9">K</i><i class="c5">E</i><i class="c4">Y</i><i class="c0">N</i><i class="c9">K</i><i class="c5">G</i><i class="c1">S</i><i class="c5">E</i><i class="c1">D</i><i class="c9">K</i><i class="c8">Y</i><i class="c10">L</i><i class="c0">F</i><i class="c13">L</i><i class="c1">L</i><i class="c10">D</i><i class="c5">K</i><i class="c10">TL</i><i class="c9">HA</i><i class="c5">T</i><i class="c8">L</i><i class="c0">Q</i><i class="c2">I</i><i class="c0">T</i><i class="c6">D</i><i class="c11">R</i><i class="c2">M</i><i class="c4">EY</i><i class="c10">H</i><i class="c1">I</i><i class="c5">DVQ</i><i class="c0">I</i><i class="c6">S</i><i class="c4">R</i><i class="c5">S</i><i class="c9">N</i><i class="c0">C</i><i class="c9">R</i><i class="c0">K</i><i class="c7">P</i><i class="c10">L</i><i class="c6">N</i><i class="c14">N</i><i class="c11">T</i><i class="c4">E</i><i class="c10">N</i><i class="c0">C</i><i class="c14">I</i><i class="c5">P</i><i class="c2">Q</i><i class="c5">K</i><i class="c11">N</i><i class="c13">P</i><i class="c9">K</i><i class="c2">L</i><i class="c10">E</i><i class="c1">K</i><i class="c9">K</i><i class="c15">LS</i><i class="c0">C</i><i class="c13">S</i><i class="c0">F</i><i class="c9">L</i><i class="c1">V</i><i class="c6">G</i><i class="c4">A</i><i class="c0">LP</i><i class="c4">W</i><i class="c5">NE</i><i class="c6">E</i><i class="c0">K</i><i class="c13">G</i><i class="c9">S</i><i class="c10">VD</i><i class="c9">L</i><i class="c13">Q</i><i class="c0">R</i><i class="c14">K</i><i class="c5">Q</i><i class="c14">V</i></div>
<div class="abs nm" style="top:692.2px">Mus musculus</div>
<div class="abs sq" style="top:692.1px"><i class="c1">M</i><i class="c14">A</i><i class="c9">K</i><i class="c16">P</i><i class="c15">L</i><i class="c13">W</i><i class="c10">L</i><i class="c13">S</i><i class="c2">L</i><i class="c9">I</i><i class="c5">LFI</i><i class="c9">I</i><i class="c12">P</i><i class="c10">V</i><i class="c9">A</i><i class="c2">L</i><i class="c9">A</i><i class="c10">VG</i><i class="c13">V</i><i class="c2">D</i><i class="c10">Q</i><i class="c16">S</i><i class="c9">K</i><i class="c6">N</i><i class="c14">EV</i><i class="c6">K</i><i class="c5">A</i><i class="c2">QN</i><i class="c14">Y</i><i class="c3">F</i><i class="c13">G</i><i class="c14">S</i><i class="c9">I</i><i class="c13">NI</i><i class="c1">S</i><i class="c11">N</i><i class="c9">A</i><i class="c1">N</i><i class="c4">V</i><i class="c5">K</i><i class="c0">Q</i><i class="c1">C</i><i class="c2">V</i><i class="c4">W</i><i class="c1">FA</i><i class="c4">M</i><i class="c9">K</i><i class="c5">E</i><i class="c4">Y</i><i class="c0">N</i><i class="c9">K</i><i class="c5">E</i><i class="c1">S</i><i class="c5">E</i><i class="c1">D</i><i class="c9">K</i><i class="c8">Y</i><i class="c10">V</i><i class="c0">F</i><i class="c13">L</i><i class="c1">V</i><i class="c10">D</i><i class="c5">K</i><i class="c10">IL</i><i class="c9">HA</i><i class="c5">K</i><i class="c8">L</i><i class="c0">Q</i><i class="c2">I</i><i class="c0">T</i><i class="c6">D</i><i class="c11">R</i><i class="c2">M</i><i class="c4">EY</i><i class="c10">Q</i><i class="c1">I</i><i class="c5">DVQ</i><i class="c0">I</i><i class="c6">S</i><i class="c4">R</i><i class="c5">S</i><i class="c9">N</i><i class="c0">C</i><i class="c9">K</i><i class="c0">K</i><i class="c7">P</i><i class="c10">L</i><i class="c6">N</i><i class="c14">N</i><i class="c11">T</i><i class="c4">E</i><i class="c10">N</i><i class="c0">C</i><i class="c14">I</i><i class="c5">P</i><i class="c2">Q</i><i class="c5">K</i><i class="c11">K</i><i class="c13">P</i><i class="c9">E</i><i class="c2">L</i><i class="c10">E</i><i class="c1">K</i><i class="c9">K</i><i class="c15">MS</i><i class="c0">C</i><i class="c13">S</i><i class="c0">F</i><i class="c9">L</i><i class="c1">V</i><i class="c6">G</i><i class="c4">A</i><i class="c0">LP</i><i class="c4">W</i><i class="c5">NG</i><i class="c6">E</i><i class="c0">F</i><i class="c13">N</i><i class="c9">L</i><i class="c10">LS</i><i class="c9">K</i><i class="c13">E</i><i class="c0">C</i><i class="c14">K</i><i class="c5">D</i><i class="c14">V</i></div>
<div class="abs nm" style="top:713.6px">Dipodomys ordii</div>
<div class="abs sq" style="top:713.5px"><i class="c1">M</i><i class="c14">T</i><i class="c9">R</i><i class="c16">T</i><i class="c15">W</i><i class="c13">W</i><i class="c10">F</i><i class="c13">F</i><i class="c2">L</i><i class="c9">F</i><i class="c5">LLT</i><i class="c9">L</i><i class="c12">L</i><i class="c10">V</i><i class="c9">A</i><i class="c2">M</i><i class="c9">G</i><i class="c10">VS</i><i class="c13">I</i><i class="c2">D</i><i class="c10">P</i><i class="c16">A</i><i class="c9">K</i><i class="c6">N</i><i class="c14">KM</i><i class="c6">K</i><i class="c5">V</i><i class="c2">LR</i><i class="c14">P</i><i class="c3">F</i><i class="c13">T</i><i class="c14">F</i><i class="c9">V</i><i class="c13">NV</i><i class="c1">S</i><i class="c11">N</i><i class="c9">A</i><i class="c1">N</i><i class="c4">V</i><i class="c5">K</i><i class="c0">Q</i><i class="c1">C</i><i class="c2">V</i><i class="c4">W</i><i class="c1">FA</i><i class="c4">M</i><i class="c9">Q</i><i class="c5">D</i><i class="c4">Y</i><i class="c0">N</i><i class="c9">E</i><i class="c5">E</i><i class="c1">S</i><i class="c5">E</i><i class="c1">D</i><i class="c9">E</i><i class="c8">F</i><i class="c10">I</i><i class="c0">F</i><i class="c13">M</i><i class="c1">V</i><i class="c10">V</i><i class="c5">K</i><i class="c10">IA</i><i class="c9">RA</i><i class="c5">Q</i><i class="c8">M</i><i class="c0">Q</i><i class="c2">I</i><i class="c0">T</i><i class="c6">D</i><i class="c11">R</i><i class="c2">L</i><i class="c4">EY</i><i class="c10">L</i><i class="c1">I</i><i class="c5">DVR</i><i class="c0">I</i><i class="c6">A</i><i class="c4">R</i><i class="c5">S</i><i class="c9">D</i><i class="c0">C</i><i class="c9">R</i><i class="c0">K</i><i class="c7">P</i><i class="c10">L</i><i class="c6">N</i><i class="c14">N</i><i class="c11">N</i><i class="c4">K</i><i class="c10">I</i><i class="c0">C</i><i class="c14">A</i><i class="c5">I</i><i class="c2">E</i><i class="c5">E</i><i class="c11">K</i><i class="c13">A</i><i class="c9">S</i><i class="c2">R</i><i class="c10">E</i><i class="c1">K</i><i class="c9">-</i><i class="c15">TH</i><i class="c0">C</i><i class="c13">T</i><i class="c0">F</i><i class="c9">L</i><i class="c1">V</i><i class="c6">-</i><i class="c4">A</i><i class="c0">LP</i><i class="c4">W</i><i class="c5">NG</i><i class="c6">E</i><i class="c0">F</i><i class="c13">N</i><i class="c9">V</i><i class="c10">LS</i><i class="c9">K</i><i class="c13">Q</i><i class="c0">C</i><i class="c14">X</i><i class="c5">X</i><i class="c14">X</i></div>
<div class="abs nm" style="top:735.1px">Tarsius syrichta</div>
<div class="abs sq" style="top:735.0px"><i class="c1">M</i><i class="c14">F</i><i class="c9">R</i><i class="c16">P</i><i class="c15">Q</i><i class="c13">W</i><i class="c10">L</i><i class="c13">S</i><i class="c2">L</i><i class="c9">L</i><i class="c5">LLT</i><i class="c9">I</i><i class="c12">P</i><i class="c10">V</i><i class="c9">T</i><i class="c2">L</i><i class="c9">M</i><i class="c10">AS</i><i class="c13">P</i><i class="c2">D</i><i class="c10">P</i><i class="c16">E</i><i class="c9">E</i><i class="c6">N</i><i class="c14">EV</i><i class="c6">K</i><i class="c5">V</i><i class="c2">LR</i><i class="c14">E</i><i class="c3">L</i><i class="c13">T</i><i class="c14">P</i><i class="c9">V</i><i class="c13">DT</i><i class="c1">S</i><i class="c11">S</i><i class="c9">P</i><i class="c1">N</i><i class="c4">V</i><i class="c5">K</i><i class="c0">Q</i><i class="c1">C</i><i class="c2">L</i><i class="c4">G</i><i class="c1">FA</i><i class="c4">M</i><i class="c9">D</i><i class="c5">E</i><i class="c4">Y</i><i class="c0">N</i><i class="c9">K</i><i class="c5">E</i><i class="c1">S</i><i class="c5">Q</i><i class="c1">D</i><i class="c9">E</i><i class="c8">Y</i><i class="c10">I</i><i class="c0">F</i><i class="c13">Q</i><i class="c1">V</i><i class="c10">L</i><i class="c5">D</i><i class="c10">IQ</i><i class="c9">QA</i><i class="c5">Q</i><i class="c8">L</i><i class="c0">Q</i><i class="c2">V</i><i class="c0">T</i><i class="c6">H</i><i class="c11">H</i><i class="c2">L</i><i class="c4">EY</i><i class="c10">L</i><i class="c1">I</i><i class="c5">DVD</i><i class="c0">I</i><i class="c6">A</i><i class="c4">R</i><i class="c5">S</i><i class="c9">N</i><i class="c0">C</i><i class="c9">K</i><i class="c0">K</i><i class="c7">S</i><i class="c10">Y</i><i class="c6">S</i><i class="c14">N</i><i class="c11">N</i><i class="c4">K</i><i class="c10">R</i><i class="c0">C</i><i class="c14">T</i><i class="c5">I</i><i class="c2">Q</i><i class="c5">E</i><i class="c11">D</i><i class="c13">S</i><i class="c9">K</i><i class="c2">L</i><i class="c10">Q</i><i class="c1">K</i><i class="c9">T</i><i class="c15">AT</i><i class="c0">C</i><i class="c13">S</i><i class="c0">F</i><i class="c9">L</i><i class="c1">V</i><i class="c6">G</i><i class="c4">A</i><i class="c0">LP</i><i class="c4">-</i><i class="c5">-N</i><i class="c6">G</i><i class="c0">F</i><i class="c13">T</i><i class="c9">M</i><i class="c10">MD</i><i class="c9">K</i><i class="c13">E</i><i class="c0">C</i><i class="c14">D</i><i class="c5">A</i><i class="c14">-</i></div>
<div class="abs nm" style="top:756.5px">Bos taurus</div>
<div class="abs sq" style="top:756.4px"><i class="c1">M</i><i class="c14">T</i><i class="c9">R</i><i class="c16">L</i><i class="c15">W</i><i class="c13">G</i><i class="c10">T</i><i class="c13">Y</i><i class="c2">Q</i><i class="c9">L</i><i class="c5">LLA</i><i class="c9">L</i><i class="c12">L</i><i class="c10">V</i><i class="c9">A</i><i class="c2">L</i><i class="c9">V</i><i class="c10">AG</i><i class="c13">N</i><i class="c2">T</i><i class="c10">L</i><i class="c16">V</i><i class="c9">H</i><i class="c6">K</i><i class="c14">DT</i><i class="c6">K</i><i class="c5">V</i><i class="c2">LW</i><i class="c14">E</i><i class="c3">L</i><i class="c13">K</i><i class="c14">N</i><i class="c9">V</i><i class="c13">SS</i><i class="c1">S</i><i class="c11">S</i><i class="c9">G</i><i class="c1">N</i><i class="c4">V</i><i class="c5">K</i><i class="c0">Q</i><i class="c1">C</i><i class="c2">L</i><i class="c4">W</i><i class="c1">FA</i><i class="c4">M</i><i class="c9">Q</i><i class="c5">E</i><i class="c4">Y</i><i class="c0">N</i><i class="c9">K</i><i class="c5">D</i><i class="c1">S</i><i class="c5">E</i><i class="c1">D</i><i class="c9">K</i><i class="c8">L</i><i class="c10">S</i><i class="c0">F</i><i class="c13">Q</i><i class="c1">V</i><i class="c10">V</i><i class="c5">K</i><i class="c10">VL</i><i class="c9">RV</i><i class="c5">Q</i><i class="c8">M</i><i class="c0">Q</i><i class="c2">V</i><i class="c0">T</i><i class="c6">D</i><i class="c11">R</i><i class="c2">L</i><i class="c4">EY</i><i class="c10">F</i><i class="c1">I</i><i class="c5">DAE</i><i class="c0">I</i><i class="c6">S</i><i class="c4">R</i><i class="c5">T</i><i class="c9">N</i><i class="c0">C</i><i class="c9">R</i><i class="c0">K</i><i class="c7">L</i><i class="c10">P</i><i class="c6">N</i><i class="c14">S</i><i class="c11">N</i><i class="c4">E</i><i class="c10">N</i><i class="c0">C</i><i class="c14">V</i><i class="c5">V</i><i class="c2">K</i><i class="c5">N</i><i class="c11">T</i><i class="c13">S</i><i class="c9">K</i><i class="c2">L</i><i class="c10">E</i><i class="c1">K</i><i class="c9">R</i><i class="c15">QM</i><i class="c0">C</i><i class="c13">T</i><i class="c0">F</i><i class="c9">C</i><i class="c1">V</i><i class="c6">G</i><i class="c4">A</i><i class="c0">LP</i><i class="c4">W</i><i class="c5">HG</i><i class="c6">Y</i><i class="c0">F</i><i class="c13">T</i><i class="c9">V</i><i class="c10">MK</i><i class="c9">K</i><i class="c13">Q</i><i class="c0">C</i><i class="c14">V</i><i class="c5">D</i><i class="c14">I</i></div>
<div class="abs nm" style="top:778.0px">Ovis aries</div>
<div class="abs sq" style="top:777.9px"><i class="c1">M</i><i class="c14">T</i><i class="c9">R</i><i class="c16">L</i><i class="c15">W</i><i class="c13">G</i><i class="c10">T</i><i class="c13">Y</i><i class="c2">Q</i><i class="c9">L</i><i class="c5">RLA</i><i class="c9">L</i><i class="c12">L</i><i class="c10">V</i><i class="c9">A</i><i class="c2">L</i><i class="c9">V</i><i class="c10">AG</i><i class="c13">S</i><i class="c2">T</i><i class="c10">L</i><i class="c16">V</i><i class="c9">Y</i><i class="c6">K</i><i class="c14">DT</i><i class="c6">K</i><i class="c5">V</i><i class="c2">LW</i><i class="c14">A</i><i class="c3">L</i><i class="c13">R</i><i class="c14">N</i><i class="c9">I</i><i class="c13">SG</i><i class="c1">S</i><i class="c11">S</i><i class="c9">G</i><i class="c1">N</i><i class="c4">M</i><i class="c5">K</i><i class="c0">Q</i><i class="c1">C</i><i class="c2">L</i><i class="c4">W</i><i class="c1">FA</i><i class="c4">M</i><i class="c9">Q</i><i class="c5">E</i><i class="c4">Y</i><i class="c0">N</i><i class="c9">K</i><i class="c5">D</i><i class="c1">S</i><i class="c5">R</i><i class="c1">D</i><i class="c9">K</i><i class="c8">F</i><i class="c10">L</i><i class="c0">F</i><i class="c13">Q</i><i class="c1">V</i><i class="c10">V</i><i class="c5">K</i><i class="c10">V-</i><i class="c9">--</i><i class="c5">Q</i><i class="c8">M</i><i class="c0">Q</i><i class="c2">V</i><i class="c0">T</i><i class="c6">D</i><i class="c11">R</i><i class="c2">L</i><i class="c4">EY</i><i class="c10">F</i><i class="c1">I</i><i class="c5">DAE</i><i class="c0">I</i><i class="c6">S</i><i class="c4">R</i><i class="c5">T</i><i class="c9">N</i><i class="c0">C</i><i class="c9">R</i><i class="c0">K</i><i class="c7">L</i><i class="c10">P</i><i class="c6">N</i><i class="c14">G</i><i class="c11">N</i><i class="c4">K</i><i class="c10">N</i><i class="c0">C</i><i class="c14">V</i><i class="c5">V</i><i class="c2">K</i><i class="c5">N</i><i class="c11">T</i><i class="c13">S</i><i class="c9">K</i><i class="c2">L</i><i class="c10">E</i><i class="c1">K</i><i class="c9">R</i><i class="c15">KM</i><i class="c0">C</i><i class="c13">T</i><i class="c0">F</i><i class="c9">W</i><i class="c1">V</i><i class="c6">G</i><i class="c4">A</i><i class="c0">LP</i><i class="c4">W</i><i class="c5">HG</i><i class="c6">Y</i><i class="c0">F</i><i class="c13">T</i><i class="c9">V</i><i class="c10">MK</i><i class="c9">K</i><i class="c13">Q</i><i class="c0">C</i><i class="c14">V</i><i class="c5">D</i><i class="c14">V</i></div>
<div class="abs nm" style="top:799.4px">Sus scrofa</div>
<div class="abs sq" style="top:799.3px"><i class="c1">M</i><i class="c14">R</i><i class="c9">R</i><i class="c16">T</i><i class="c15">W</i><i class="c13">G</i><i class="c10">S</i><i class="c13">C</i><i class="c2">L</i><i class="c9">L</i><i class="c5">LLA</i><i class="c9">I</i><i class="c12">L</i><i class="c10">V</i><i class="c9">A</i><i class="c2">L</i><i class="c9">V</i><i class="c10">-D</i><i class="c13">S</i><i class="c2">T</i><i class="c10">P</i><i class="c16">P</i><i class="c9">D</i><i class="c6">Q</i><i class="c14">NT</i><i class="c6">K</i><i class="c5">V</i><i class="c2">LK</i><i class="c14">E</i><i class="c3">L</i><i class="c13">K</i><i class="c14">N</i><i class="c9">I</i><i class="c13">SA</i><i class="c1">S</i><i class="c11">D</i><i class="c9">G</i><i class="c1">N</i><i class="c4">V</i><i class="c5">K</i><i class="c0">Q</i><i class="c1">C</i><i class="c2">L</i><i class="c4">W</i><i class="c1">FA</i><i class="c4">M</i><i class="c9">R</i><i class="c5">E</i><i class="c4">Y</i><i class="c0">N</i><i class="c9">K</i><i class="c5">E</i><i class="c1">S</i><i class="c5">E</i><i class="c1">D</i><i class="c9">K</i><i class="c8">Y</i><i class="c10">I</i><i class="c0">F</i><i class="c13">R</i><i class="c1">V</i><i class="c10">V</i><i class="c5">K</i><i class="c10">VV</i><i class="c9">RV</i><i class="c5">Q</i><i class="c8">L</i><i class="c0">Q</i><i class="c2">V</i><i class="c0">T</i><i class="c6">D</i><i class="c11">L</i><i class="c2">L</i><i class="c4">EY</i><i class="c10">F</i><i class="c1">I</i><i class="c5">DAE</i><i class="c0">I</i><i class="c6">A</i><i class="c4">R</i><i class="c5">T</i><i class="c9">N</i><i class="c0">C</i><i class="c9">R</i><i class="c0">K</i><i class="c7">L</i><i class="c10">P</i><i class="c6">N</i><i class="c14">S</i><i class="c11">D</i><i class="c4">E</i><i class="c10">N</i><i class="c0">C</i><i class="c14">V</i><i class="c5">V</i><i class="c2">K</i><i class="c5">E</i><i class="c11">T</i><i class="c13">S</i><i class="c9">K</i><i class="c2">L</i><i class="c10">E</i><i class="c1">K</i><i class="c9">R</i><i class="c15">QM</i><i class="c0">C</i><i class="c13">N</i><i class="c0">F</i><i class="c9">L</i><i class="c1">V</i><i class="c6">G</i><i class="c4">T</i><i class="c0">LP</i><i class="c4">W</i><i class="c5">KG</i><i class="c6">K</i><i class="c0">F</i><i class="c13">I</i><i class="c9">M</i><i class="c10">MK</i><i class="c9">Q</i><i class="c13">R</i><i class="c0">C</i><i class="c14">V</i><i class="c5">E</i><i class="c14">A</i></div>
<div class="abs nm" style="top:820.9px">Tursiops truncatus</div>
<div class="abs sq" style="top:820.8px"><i class="c1">-</i><i class="c14">-</i><i class="c9">-</i><i class="c16">-</i><i class="c15">-</i><i class="c13">-</i><i class="c10">-</i><i class="c13">-</i><i class="c2">-</i><i class="c9">-</i><i class="c5">-MT</i><i class="c9">R</i><i class="c12">L</i><i class="c10">W</i><i class="c9">G</i><i class="c2">L</i><i class="c9">V</i><i class="c10">-D</i><i class="c13">S</i><i class="c2">T</i><i class="c10">F</i><i class="c16">L</i><i class="c9">S</i><i class="c6">K</i><i class="c14">NT</i><i class="c6">K</i><i class="c5">V</i><i class="c2">LR</i><i class="c14">E</i><i class="c3">S</i><i class="c13">R</i><i class="c14">T</i><i class="c9">I</i><i class="c13">ST</i><i class="c1">S</i><i class="c11">S</i><i class="c9">G</i><i class="c1">N</i><i class="c4">V</i><i class="c5">K</i><i class="c0">Q</i><i class="c1">C</i><i class="c2">L</i><i class="c4">W</i><i class="c1">FA</i><i class="c4">V</i><i class="c9">G</i><i class="c5">-</i><i class="c4">Y</i><i class="c0">N</i><i class="c9">K</i><i class="c5">E</i><i class="c1">S</i><i class="c5">K</i><i class="c1">E</i><i class="c9">K</i><i class="c8">-</i><i class="c10">S</i><i class="c0">F</i><i class="c13">Q</i><i class="c1">V</i><i class="c10">V</i><i class="c5">K</i><i class="c10">VL</i><i class="c9">QV</i><i class="c5">Q</i><i class="c8">L</i><i class="c0">Q</i><i class="c2">V</i><i class="c0">T</i><i class="c6">D</i><i class="c11">R</i><i class="c2">L</i><i class="c4">EY</i><i class="c10">F</i><i class="c1">I</i><i class="c5">DAE</i><i class="c0">I</i><i class="c6">A</i><i class="c4">-</i><i class="c5">-</i><i class="c9">-</i><i class="c0">C</i><i class="c9">R</i><i class="c0">K</i><i class="c7">L</i><i class="c10">P</i><i class="c6">D</i><i class="c14">G</i><i class="c11">N</i><i class="c4">E</i><i class="c10">N</i><i class="c0">C</i><i class="c14">T</i><i class="c5">V</i><i class="c2">K</i><i class="c5">E</i><i class="c11">N</i><i class="c13">F</i><i class="c9">K</i><i class="c2">L</i><i class="c10">E</i><i class="c1">K</i><i class="c9">R</i><i class="c15">QI</i><i class="c0">C</i><i class="c13">T</i><i class="c0">F</i><i class="c9">L</i><i class="c1">V</i><i class="c6">G</i><i class="c4">A</i><i class="c0">LP</i><i class="c4">W</i><i class="c5">HS</i><i class="c6">D</i><i class="c0">F</i><i class="c13">T</i><i class="c9">V</i><i class="c10">TK</i><i class="c9">Q</i><i class="c13">K</i><i class="c0">C</i><i class="c14">V</i><i class="c5">E</i><i class="c14">A</i></div>
</div>
</body></html>
